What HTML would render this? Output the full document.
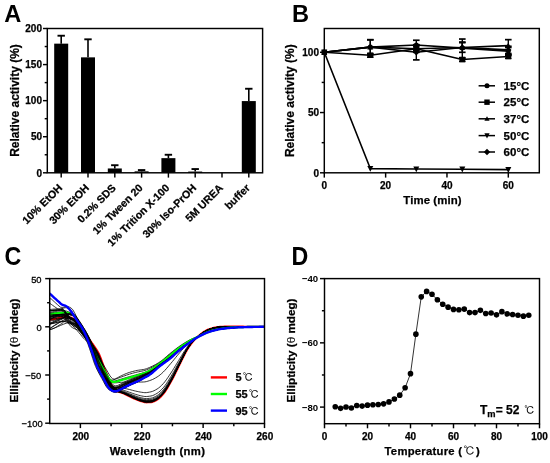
<!DOCTYPE html>
<html><head><meta charset="utf-8"><title>Figure</title>
<style>
html,body{margin:0;padding:0;background:#fff;}
svg{display:block;font-family:"Liberation Sans", sans-serif;}
text{fill:#000;stroke:#000;stroke-width:0.25px;}
</style></head><body>
<svg width="550" height="463" viewBox="0 0 550 463">
<rect width="550" height="463" fill="#fff"/>
<text x="4.2" y="21.6" font-size="23.6" font-weight="bold" text-anchor="start" style="stroke:none">A</text>
<rect x="47.3" y="28.5" width="215.3" height="144.3" fill="none" stroke="#000" stroke-width="1.45"/>
<line x1="43" y1="172.8" x2="47.3" y2="172.8" stroke="#000" stroke-width="1.45" />
<text x="42" y="176.5" font-size="10" font-weight="bold" text-anchor="end" >0</text>
<line x1="43" y1="136.73" x2="47.3" y2="136.73" stroke="#000" stroke-width="1.45" />
<text x="42" y="140.43" font-size="10" font-weight="bold" text-anchor="end" >50</text>
<line x1="43" y1="100.65" x2="47.3" y2="100.65" stroke="#000" stroke-width="1.45" />
<text x="42" y="104.35" font-size="10" font-weight="bold" text-anchor="end" >100</text>
<line x1="43" y1="64.58" x2="47.3" y2="64.58" stroke="#000" stroke-width="1.45" />
<text x="42" y="68.28" font-size="10" font-weight="bold" text-anchor="end" >150</text>
<line x1="43" y1="28.5" x2="47.3" y2="28.5" stroke="#000" stroke-width="1.45" />
<text x="42" y="32.2" font-size="10" font-weight="bold" text-anchor="end" >200</text>
<line x1="44.7" y1="154.76" x2="47.3" y2="154.76" stroke="#000" stroke-width="1.45" />
<line x1="44.7" y1="118.69" x2="47.3" y2="118.69" stroke="#000" stroke-width="1.45" />
<line x1="44.7" y1="82.61" x2="47.3" y2="82.61" stroke="#000" stroke-width="1.45" />
<line x1="44.7" y1="46.54" x2="47.3" y2="46.54" stroke="#000" stroke-width="1.45" />
<text x="19" y="100.5" font-size="12" font-weight="bold" text-anchor="middle" transform="rotate(-90 19 100.5)" >Relative activity (%)</text>
<rect x="54.2" y="43.65" width="14" height="129.15" fill="#000"/>
<line x1="61.2" y1="43.65" x2="61.2" y2="35.72" stroke="#000" stroke-width="1.6" />
<line x1="57.5" y1="35.72" x2="64.9" y2="35.72" stroke="#000" stroke-width="1.9" />
<line x1="61.2" y1="172.8" x2="61.2" y2="177.6" stroke="#000" stroke-width="1.45" />
<text x="63" y="188.6" font-size="10.7" font-weight="bold" text-anchor="end" transform="rotate(-45 63 188.6)" >10% EtOH</text>
<rect x="81" y="57.36" width="14" height="115.44" fill="#000"/>
<line x1="88" y1="57.36" x2="88" y2="39.32" stroke="#000" stroke-width="1.6" />
<line x1="84.3" y1="39.32" x2="91.7" y2="39.32" stroke="#000" stroke-width="1.9" />
<line x1="88" y1="172.8" x2="88" y2="177.6" stroke="#000" stroke-width="1.45" />
<text x="89.8" y="188.6" font-size="10.7" font-weight="bold" text-anchor="end" transform="rotate(-45 89.8 188.6)" >30% EtOH</text>
<rect x="107.8" y="168.47" width="14" height="4.33" fill="#000"/>
<line x1="114.8" y1="168.47" x2="114.8" y2="165.22" stroke="#000" stroke-width="1.6" />
<line x1="111.1" y1="165.22" x2="118.5" y2="165.22" stroke="#000" stroke-width="1.9" />
<line x1="114.8" y1="172.8" x2="114.8" y2="177.6" stroke="#000" stroke-width="1.45" />
<text x="116.6" y="188.6" font-size="10.7" font-weight="bold" text-anchor="end" transform="rotate(-45 116.6 188.6)" >0.2% SDS</text>
<rect x="134.6" y="171.36" width="14" height="1.44" fill="#000"/>
<line x1="141.6" y1="171.36" x2="141.6" y2="170.06" stroke="#000" stroke-width="1.6" />
<line x1="137.9" y1="170.06" x2="145.3" y2="170.06" stroke="#000" stroke-width="1.9" />
<line x1="141.6" y1="172.8" x2="141.6" y2="177.6" stroke="#000" stroke-width="1.45" />
<text x="143.4" y="188.6" font-size="10.7" font-weight="bold" text-anchor="end" transform="rotate(-45 143.4 188.6)" >1% Tween 20</text>
<rect x="161.4" y="158.15" width="14" height="14.65" fill="#000"/>
<line x1="168.4" y1="158.15" x2="168.4" y2="154.76" stroke="#000" stroke-width="1.6" />
<line x1="164.7" y1="154.76" x2="172.1" y2="154.76" stroke="#000" stroke-width="1.9" />
<line x1="168.4" y1="172.8" x2="168.4" y2="177.6" stroke="#000" stroke-width="1.45" />
<text x="170.2" y="188.6" font-size="10.7" font-weight="bold" text-anchor="end" transform="rotate(-45 170.2 188.6)" >1% Trition X-100</text>
<rect x="188.2" y="171.57" width="14" height="1.23" fill="#000"/>
<line x1="195.2" y1="171.57" x2="195.2" y2="169.05" stroke="#000" stroke-width="1.6" />
<line x1="191.5" y1="169.05" x2="198.9" y2="169.05" stroke="#000" stroke-width="1.9" />
<line x1="195.2" y1="172.8" x2="195.2" y2="177.6" stroke="#000" stroke-width="1.45" />
<text x="197" y="188.6" font-size="10.7" font-weight="bold" text-anchor="end" transform="rotate(-45 197 188.6)" >30% Iso-PrOH</text>
<line x1="222" y1="172.8" x2="222" y2="177.6" stroke="#000" stroke-width="1.45" />
<text x="223.8" y="188.6" font-size="10.7" font-weight="bold" text-anchor="end" transform="rotate(-45 223.8 188.6)" >5M UREA</text>
<rect x="241.8" y="101.08" width="14" height="71.72" fill="#000"/>
<line x1="248.8" y1="101.08" x2="248.8" y2="88.75" stroke="#000" stroke-width="1.6" />
<line x1="245.1" y1="88.75" x2="252.5" y2="88.75" stroke="#000" stroke-width="1.9" />
<line x1="248.8" y1="172.8" x2="248.8" y2="177.6" stroke="#000" stroke-width="1.45" />
<text x="250.6" y="188.6" font-size="10.7" font-weight="bold" text-anchor="end" transform="rotate(-45 250.6 188.6)" >buffer</text>
<text x="292.1" y="21.6" font-size="23.6" font-weight="bold" text-anchor="start" style="stroke:none">B</text>
<rect x="324.3" y="28.5" width="215" height="144.3" fill="none" stroke="#000" stroke-width="1.45"/>
<line x1="320" y1="172.8" x2="324.3" y2="172.8" stroke="#000" stroke-width="1.45" />
<text x="319" y="176.5" font-size="10" font-weight="bold" text-anchor="end" >0</text>
<line x1="320" y1="112.55" x2="324.3" y2="112.55" stroke="#000" stroke-width="1.45" />
<text x="319" y="116.25" font-size="10" font-weight="bold" text-anchor="end" >50</text>
<line x1="320" y1="52.3" x2="324.3" y2="52.3" stroke="#000" stroke-width="1.45" />
<text x="319" y="56" font-size="10" font-weight="bold" text-anchor="end" >100</text>
<line x1="321.7" y1="142.68" x2="324.3" y2="142.68" stroke="#000" stroke-width="1.45" />
<line x1="321.7" y1="82.42" x2="324.3" y2="82.42" stroke="#000" stroke-width="1.45" />
<line x1="324.3" y1="172.8" x2="324.3" y2="177.6" stroke="#000" stroke-width="1.45" />
<text x="324.3" y="188.8" font-size="10" font-weight="bold" text-anchor="middle" >0</text>
<line x1="385.63" y1="172.8" x2="385.63" y2="177.6" stroke="#000" stroke-width="1.45" />
<text x="385.63" y="188.8" font-size="10" font-weight="bold" text-anchor="middle" >20</text>
<line x1="446.97" y1="172.8" x2="446.97" y2="177.6" stroke="#000" stroke-width="1.45" />
<text x="446.97" y="188.8" font-size="10" font-weight="bold" text-anchor="middle" >40</text>
<line x1="508.3" y1="172.8" x2="508.3" y2="177.6" stroke="#000" stroke-width="1.45" />
<text x="508.3" y="188.8" font-size="10" font-weight="bold" text-anchor="middle" >60</text>
<text x="294.5" y="100.7" font-size="12" font-weight="bold" text-anchor="middle" transform="rotate(-90 294.5 100.7)" >Relative activity (%)</text>
<text x="432.5" y="204.3" font-size="11.4" font-weight="bold" text-anchor="middle" letter-spacing="0.1">Time (min)</text>
<polyline points="324.3,52.3 370.3,47.12 416.3,45.07 462.3,48.08 508.3,51.09" fill="none" stroke="#000" stroke-width="1.6" stroke-linejoin="round"/>
<circle cx="324.3" cy="52.3" r="2.5" fill="#000"/>
<line x1="370.3" y1="54.35" x2="370.3" y2="39.89" stroke="#000" stroke-width="1.4" />
<line x1="367" y1="39.89" x2="373.6" y2="39.89" stroke="#000" stroke-width="1.7" />
<line x1="367" y1="54.35" x2="373.6" y2="54.35" stroke="#000" stroke-width="1.7" />
<circle cx="370.3" cy="47.12" r="2.5" fill="#000"/>
<line x1="416.3" y1="49.89" x2="416.3" y2="40.25" stroke="#000" stroke-width="1.4" />
<line x1="413" y1="40.25" x2="419.6" y2="40.25" stroke="#000" stroke-width="1.7" />
<line x1="413" y1="49.89" x2="419.6" y2="49.89" stroke="#000" stroke-width="1.7" />
<circle cx="416.3" cy="45.07" r="2.5" fill="#000"/>
<line x1="462.3" y1="48.08" x2="462.3" y2="42.06" stroke="#000" stroke-width="1.4" />
<line x1="459" y1="42.06" x2="465.6" y2="42.06" stroke="#000" stroke-width="1.7" />
<circle cx="462.3" cy="48.08" r="2.5" fill="#000"/>
<line x1="508.3" y1="54.71" x2="508.3" y2="47.48" stroke="#000" stroke-width="1.4" />
<line x1="505" y1="47.48" x2="511.6" y2="47.48" stroke="#000" stroke-width="1.7" />
<line x1="505" y1="54.71" x2="511.6" y2="54.71" stroke="#000" stroke-width="1.7" />
<circle cx="508.3" cy="51.09" r="2.5" fill="#000"/>
<polyline points="324.3,52.3 370.3,55.31 416.3,48.68 462.3,59.53 508.3,56.52" fill="none" stroke="#000" stroke-width="1.6" stroke-linejoin="round"/>
<rect x="321.6" y="49.6" width="5.4" height="5.4" fill="#000"/>
<line x1="370.3" y1="57.12" x2="370.3" y2="53.5" stroke="#000" stroke-width="1.4" />
<line x1="367" y1="53.5" x2="373.6" y2="53.5" stroke="#000" stroke-width="1.7" />
<line x1="367" y1="57.12" x2="373.6" y2="57.12" stroke="#000" stroke-width="1.7" />
<rect x="367.6" y="52.61" width="5.4" height="5.4" fill="#000"/>
<line x1="416.3" y1="50.49" x2="416.3" y2="46.88" stroke="#000" stroke-width="1.4" />
<line x1="413" y1="46.88" x2="419.6" y2="46.88" stroke="#000" stroke-width="1.7" />
<line x1="413" y1="50.49" x2="419.6" y2="50.49" stroke="#000" stroke-width="1.7" />
<rect x="413.6" y="45.98" width="5.4" height="5.4" fill="#000"/>
<line x1="462.3" y1="61.34" x2="462.3" y2="57.72" stroke="#000" stroke-width="1.4" />
<line x1="459" y1="57.72" x2="465.6" y2="57.72" stroke="#000" stroke-width="1.7" />
<line x1="459" y1="61.34" x2="465.6" y2="61.34" stroke="#000" stroke-width="1.7" />
<rect x="459.6" y="56.83" width="5.4" height="5.4" fill="#000"/>
<line x1="508.3" y1="58.32" x2="508.3" y2="54.71" stroke="#000" stroke-width="1.4" />
<line x1="505" y1="54.71" x2="511.6" y2="54.71" stroke="#000" stroke-width="1.7" />
<line x1="505" y1="58.32" x2="511.6" y2="58.32" stroke="#000" stroke-width="1.7" />
<rect x="505.6" y="53.82" width="5.4" height="5.4" fill="#000"/>
<polyline points="324.3,52.3 370.3,47.12 416.3,48.68 462.3,47.48 508.3,45.67" fill="none" stroke="#000" stroke-width="1.6" stroke-linejoin="round"/>
<polygon points="324.3,49.42 327.29,54.6 321.31,54.6" fill="#000"/>
<polygon points="370.3,44.24 373.29,49.42 367.31,49.42" fill="#000"/>
<line x1="416.3" y1="52.3" x2="416.3" y2="45.07" stroke="#000" stroke-width="1.4" />
<line x1="413" y1="45.07" x2="419.6" y2="45.07" stroke="#000" stroke-width="1.7" />
<line x1="413" y1="52.3" x2="419.6" y2="52.3" stroke="#000" stroke-width="1.7" />
<polygon points="416.3,45.81 419.29,50.98 413.31,50.98" fill="#000"/>
<line x1="462.3" y1="58.32" x2="462.3" y2="39.04" stroke="#000" stroke-width="1.4" />
<line x1="459" y1="39.04" x2="465.6" y2="39.04" stroke="#000" stroke-width="1.7" />
<line x1="459" y1="58.32" x2="465.6" y2="58.32" stroke="#000" stroke-width="1.7" />
<polygon points="462.3,44.6 465.29,49.78 459.31,49.78" fill="#000"/>
<line x1="508.3" y1="55.91" x2="508.3" y2="39.65" stroke="#000" stroke-width="1.4" />
<line x1="505" y1="39.65" x2="511.6" y2="39.65" stroke="#000" stroke-width="1.7" />
<line x1="505" y1="55.91" x2="511.6" y2="55.91" stroke="#000" stroke-width="1.7" />
<polygon points="508.3,42.8 511.29,47.97 505.31,47.97" fill="#000"/>
<polyline points="324.3,52.3 370.3,168.58 416.3,169.06 462.3,169.19 508.3,169.67" fill="none" stroke="#000" stroke-width="1.6" stroke-linejoin="round"/>
<polygon points="324.3,55.52 327.29,49.72 321.31,49.72" fill="#000"/>
<polygon points="370.3,171.8 373.29,166.01 367.31,166.01" fill="#000"/>
<polygon points="416.3,172.28 419.29,166.49 413.31,166.49" fill="#000"/>
<polygon points="462.3,172.41 465.29,166.61 459.31,166.61" fill="#000"/>
<polygon points="508.3,172.89 511.29,167.09 505.31,167.09" fill="#000"/>
<polyline points="324.3,52.3 370.3,47.12 416.3,52.3 462.3,47.48 508.3,49.89" fill="none" stroke="#000" stroke-width="1.6" stroke-linejoin="round"/>
<polygon points="324.3,49.1 327.5,52.3 324.3,55.5 321.1,52.3" fill="#000"/>
<line x1="370.3" y1="54.59" x2="370.3" y2="39.65" stroke="#000" stroke-width="1.4" />
<line x1="367" y1="39.65" x2="373.6" y2="39.65" stroke="#000" stroke-width="1.7" />
<line x1="367" y1="54.59" x2="373.6" y2="54.59" stroke="#000" stroke-width="1.7" />
<polygon points="370.3,43.92 373.5,47.12 370.3,50.32 367.1,47.12" fill="#000"/>
<line x1="416.3" y1="59.89" x2="416.3" y2="44.71" stroke="#000" stroke-width="1.4" />
<line x1="413" y1="44.71" x2="419.6" y2="44.71" stroke="#000" stroke-width="1.7" />
<line x1="413" y1="59.89" x2="419.6" y2="59.89" stroke="#000" stroke-width="1.7" />
<polygon points="416.3,49.1 419.5,52.3 416.3,55.5 413.1,52.3" fill="#000"/>
<line x1="462.3" y1="52.3" x2="462.3" y2="42.66" stroke="#000" stroke-width="1.4" />
<line x1="459" y1="42.66" x2="465.6" y2="42.66" stroke="#000" stroke-width="1.7" />
<line x1="459" y1="52.3" x2="465.6" y2="52.3" stroke="#000" stroke-width="1.7" />
<polygon points="462.3,44.28 465.5,47.48 462.3,50.68 459.1,47.48" fill="#000"/>
<line x1="508.3" y1="53.5" x2="508.3" y2="46.27" stroke="#000" stroke-width="1.4" />
<line x1="505" y1="46.27" x2="511.6" y2="46.27" stroke="#000" stroke-width="1.7" />
<line x1="505" y1="53.5" x2="511.6" y2="53.5" stroke="#000" stroke-width="1.7" />
<polygon points="508.3,46.69 511.5,49.89 508.3,53.09 505.1,49.89" fill="#000"/>
<line x1="478.6" y1="85.8" x2="495" y2="85.8" stroke="#000" stroke-width="1.5" />
<circle cx="487" cy="85.8" r="2.5" fill="#000"/>
<text x="503.6" y="89.8" font-size="11.5" font-weight="bold" text-anchor="start" >15°C</text>
<line x1="478.6" y1="102.2" x2="495" y2="102.2" stroke="#000" stroke-width="1.5" />
<rect x="484.3" y="99.5" width="5.4" height="5.4" fill="#000"/>
<text x="503.6" y="106.2" font-size="11.5" font-weight="bold" text-anchor="start" >25°C</text>
<line x1="478.6" y1="118.8" x2="495" y2="118.8" stroke="#000" stroke-width="1.5" />
<polygon points="487,116.3 489.6,120.8 484.4,120.8" fill="#000"/>
<text x="503.6" y="122.8" font-size="11.5" font-weight="bold" text-anchor="start" >37°C</text>
<line x1="478.6" y1="135.6" x2="495" y2="135.6" stroke="#000" stroke-width="1.5" />
<polygon points="487,138.4 489.6,133.36 484.4,133.36" fill="#000"/>
<text x="503.6" y="139.6" font-size="11.5" font-weight="bold" text-anchor="start" >50°C</text>
<line x1="478.6" y1="152" x2="495" y2="152" stroke="#000" stroke-width="1.5" />
<polygon points="487,148.8 490.2,152 487,155.2 483.8,152" fill="#000"/>
<text x="503.6" y="156" font-size="11.5" font-weight="bold" text-anchor="start" >60°C</text>
<text transform="translate(4.4,265.1) scale(0.905,1)" font-size="25.7" font-weight="bold" style="stroke:none">C</text>
<clipPath id="cc"><rect x="49.7" y="278.6" width="214.8" height="144.9"/></clipPath>
<g clip-path="url(#cc)">
<polyline points="49.7,319.57 51.23,319.36 52.77,319.12 54.3,318.87 55.84,318.61 57.37,318.3 58.91,317.95 60.44,317.62 61.97,317.35 63.51,317.13 65.04,316.95 66.58,316.87 68.11,317.01 69.65,317.36 71.18,317.83 72.71,318.69 74.25,319.98 75.78,321.47 77.32,323.32 78.85,325.25 80.39,327.18 81.92,329.21 83.45,331.41 84.99,333.72 86.52,335.96 88.06,338.03 89.59,340.02 91.13,342.03 92.66,344.15 94.19,346.34 95.73,348.56 97.26,351 98.8,353.79 100.33,357.32 101.87,361.52 103.4,365.91 104.93,370 106.47,373.94 108,377.72 109.54,381.18 111.07,384.52 112.61,387.05 114.14,388.68 115.67,389.94 117.21,390.91 118.74,391.63 120.28,392.2 121.81,392.73 123.35,393.32 124.88,394 126.41,394.73 127.95,395.47 129.48,396.21 131.02,396.95 132.55,397.7 134.09,398.43 135.62,399.1 137.15,399.72 138.69,400.32 140.22,400.86 141.76,401.32 143.29,401.75 144.83,402.12 146.36,402.28 147.89,402.26 149.43,402.19 150.96,402.09 152.5,401.8 154.03,401.22 155.57,400.44 157.1,399.58 158.63,398.52 160.17,397.16 161.7,395.55 163.24,393.8 164.77,391.81 166.31,389.5 167.84,386.96 169.37,384.26 170.91,381.49 172.44,378.69 173.98,375.71 175.51,372.58 177.05,369.42 178.58,366.32 180.11,363.24 181.65,360.08 183.18,356.94 184.72,353.9 186.25,351.06 187.79,348.49 189.32,346.17 190.85,344.02 192.39,342.06 193.92,340.3 195.46,338.73 196.99,337.31 198.53,336 200.06,334.75 201.59,333.53 203.13,332.4 204.66,331.43 206.2,330.6 207.73,329.86 209.27,329.23 210.8,328.72 212.33,328.27 213.87,327.88 215.4,327.57 216.94,327.32 218.47,327.11 220.01,326.97 221.54,326.86 223.07,326.76 224.61,326.68 226.14,326.63 227.68,326.61 229.21,326.61 230.75,326.62 232.28,326.63 233.81,326.65 235.35,326.66 236.88,326.68 238.42,326.69 239.95,326.7 241.49,326.71 243.02,326.72 244.55,326.73 246.09,326.74 247.62,326.74 249.16,326.75 250.69,326.76 252.23,326.76 253.76,326.77 255.29,326.78 256.83,326.78 258.36,326.79 259.9,326.79 261.43,326.79 262.97,326.8 264.5,326.8" fill="none" stroke="#f00" stroke-width="2.2" stroke-linejoin="round" stroke-linecap="round" />
<polyline points="49.7,329.77 51.23,329.34 52.77,328.78 54.3,328.09 55.84,327.27 57.37,326.32 58.91,325.34 60.44,324.38 61.97,323.43 63.51,322.2 65.04,320.64 66.58,319.14 68.11,317.98 69.65,317.34 71.18,317.75 72.71,319.05 74.25,320.56 75.78,322.46 77.32,324.44 78.85,326.43 80.39,328.51 81.92,330.78 83.45,333.18 84.99,335.53 86.52,337.71 88.06,339.81 89.59,341.9 91.13,344.08 92.66,346.29 94.19,348.51 95.73,350.94 97.26,353.73 98.8,357.24 100.33,361.43 101.87,365.81 103.4,369.91 104.93,373.85 106.47,377.64 108,381.11 109.54,384.45 111.07,386.99 112.61,388.6 114.14,389.78 115.67,390.68 117.21,391.36 118.74,391.91 120.28,392.38 121.81,392.85 123.35,393.39 124.88,394.02 126.41,394.73 127.95,395.47 129.48,396.21 131.02,396.95 132.55,397.7 134.09,398.43 135.62,399.1 137.15,399.72 138.69,400.32 140.22,400.86 141.76,401.32 143.29,401.75 144.83,402.12 146.36,402.28 147.89,402.26 149.43,402.19 150.96,402.09 152.5,401.8 154.03,401.22 155.57,400.44 157.1,399.58 158.63,398.52 160.17,397.16 161.7,395.55 163.24,393.8 164.77,391.81 166.31,389.5 167.84,386.96 169.37,384.26 170.91,381.49 172.44,378.69 173.98,375.71 175.51,372.58 177.05,369.42 178.58,366.32 180.11,363.24 181.65,360.08 183.18,356.94 184.72,353.9 186.25,351.06 187.79,348.49 189.32,346.17 190.85,344.02 192.39,342.06 193.92,340.3 195.46,338.73 196.99,337.31 198.53,336 200.06,334.75 201.59,333.53 203.13,332.4 204.66,331.43 206.2,330.6 207.73,329.86 209.27,329.23 210.8,328.72 212.33,328.27 213.87,327.88 215.4,327.57 216.94,327.32 218.47,327.11 220.01,326.97 221.54,326.86 223.07,326.76 224.61,326.68 226.14,326.63 227.68,326.61 229.21,326.61 230.75,326.62 232.28,326.63 233.81,326.65 235.35,326.66 236.88,326.68 238.42,326.69 239.95,326.7 241.49,326.71 243.02,326.72 244.55,326.73 246.09,326.74 247.62,326.74 249.16,326.75 250.69,326.76 252.23,326.76 253.76,326.77 255.29,326.78 256.83,326.78 258.36,326.79 259.9,326.79 261.43,326.79 262.97,326.8 264.5,326.8" fill="none" stroke="#000" stroke-width="0.8" stroke-linejoin="round" stroke-linecap="round" />
<polyline points="49.7,328.33 51.23,327.48 52.77,326.61 54.3,325.72 55.84,324.8 57.37,323.84 58.91,322.86 60.44,321.91 61.97,321.03 63.51,320.08 65.04,319.09 66.58,318.26 68.11,317.75 69.65,317.62 71.18,318.09 72.71,319.4 74.25,321.37 75.78,323.81 77.32,326.46 78.85,328.97 80.39,331.19 81.92,333.19 83.45,335.11 84.99,336.91 86.52,338.52 88.06,340.01 89.59,341.54 91.13,343.28 92.66,345.31 94.19,347.53 95.73,349.87 97.26,352.49 98.8,355.66 100.33,359.52 101.87,363.8 103.4,368.01 104.93,372.01 106.47,375.86 108,379.47 109.54,382.85 111.07,385.75 112.61,387.77 114.14,389.15 115.67,390.2 117.21,391 118.74,391.62 120.28,392.12 121.81,392.61 123.35,393.16 124.88,393.81 126.41,394.51 127.95,395.24 129.48,395.96 131.02,396.69 132.55,397.43 134.09,398.15 135.62,398.8 137.15,399.42 138.69,400 140.22,400.54 141.76,400.98 143.29,401.4 144.83,401.77 146.36,401.92 147.89,401.89 149.43,401.82 150.96,401.71 152.5,401.41 154.03,400.83 155.57,400.05 157.1,399.19 158.63,398.13 160.17,396.77 161.7,395.17 163.24,393.42 164.77,391.44 166.31,389.14 167.84,386.61 169.37,383.93 170.91,381.17 172.44,378.39 173.98,375.43 175.51,372.32 177.05,369.18 178.58,366.11 180.11,363.05 181.65,359.91 183.18,356.79 184.72,353.78 186.25,350.95 187.79,348.41 189.32,346.11 190.85,343.97 192.39,342.02 193.92,340.27 195.46,338.71 196.99,337.3 198.53,336 200.06,334.76 201.59,333.55 203.13,332.42 204.66,331.45 206.2,330.62 207.73,329.89 209.27,329.26 210.8,328.74 212.33,328.29 213.87,327.91 215.4,327.6 216.94,327.34 218.47,327.13 220.01,326.99 221.54,326.88 223.07,326.78 224.61,326.7 226.14,326.64 227.68,326.62 229.21,326.62 230.75,326.63 232.28,326.64 233.81,326.66 235.35,326.67 236.88,326.69 238.42,326.7 239.95,326.71 241.49,326.72 243.02,326.72 244.55,326.73 246.09,326.74 247.62,326.75 249.16,326.75 250.69,326.76 252.23,326.77 253.76,326.77 255.29,326.78 256.83,326.78 258.36,326.79 259.9,326.79 261.43,326.79 262.97,326.8 264.5,326.8" fill="none" stroke="#000" stroke-width="0.8" stroke-linejoin="round" stroke-linecap="round" />
<polyline points="49.7,329.69 51.23,329.21 52.77,328.68 54.3,328.11 55.84,327.49 57.37,326.81 58.91,326.11 60.44,325.46 61.97,324.84 63.51,324.21 65.04,323.61 66.58,323.17 68.11,322.94 69.65,322.9 71.18,323.23 72.71,324.05 74.25,325.18 75.78,326.65 77.32,328.28 78.85,329.93 80.39,331.61 81.92,333.38 83.45,335.2 84.99,336.96 86.52,338.59 88.06,340.15 89.59,341.78 91.13,343.61 92.66,345.69 94.19,347.91 95.73,350.28 97.26,352.96 98.8,356.27 100.33,360.27 101.87,364.59 103.4,368.77 104.93,372.75 106.47,376.58 108,380.13 109.54,383.5 111.07,386.27 112.61,388.13 114.14,389.44 115.67,390.44 117.21,391.2 118.74,391.79 120.28,392.29 121.81,392.77 123.35,393.32 124.88,393.96 126.41,394.67 127.95,395.41 129.48,396.15 131.02,396.88 132.55,397.63 134.09,398.36 135.62,399.03 137.15,399.65 138.69,400.24 140.22,400.78 141.76,401.23 143.29,401.66 144.83,402.03 146.36,402.19 147.89,402.16 149.43,402.1 150.96,401.99 152.5,401.7 154.03,401.12 155.57,400.35 157.1,399.48 158.63,398.43 160.17,397.06 161.7,395.46 163.24,393.7 164.77,391.72 166.31,389.41 167.84,386.87 169.37,384.18 170.91,381.41 172.44,378.62 173.98,375.64 175.51,372.52 177.05,369.36 178.58,366.27 180.11,363.19 181.65,360.04 183.18,356.9 184.72,353.87 186.25,351.03 187.79,348.47 189.32,346.16 190.85,344.01 192.39,342.05 193.92,340.29 195.46,338.72 196.99,337.31 198.53,336 200.06,334.75 201.59,333.53 203.13,332.4 204.66,331.43 206.2,330.6 207.73,329.87 209.27,329.24 210.8,328.72 212.33,328.27 213.87,327.89 215.4,327.58 216.94,327.32 218.47,327.12 220.01,326.98 221.54,326.86 223.07,326.76 224.61,326.68 226.14,326.63 227.68,326.61 229.21,326.61 230.75,326.62 232.28,326.63 233.81,326.65 235.35,326.67 236.88,326.68 238.42,326.69 239.95,326.7 241.49,326.71 243.02,326.72 244.55,326.73 246.09,326.74 247.62,326.74 249.16,326.75 250.69,326.76 252.23,326.76 253.76,326.77 255.29,326.78 256.83,326.78 258.36,326.79 259.9,326.79 261.43,326.79 262.97,326.8 264.5,326.8" fill="none" stroke="#000" stroke-width="0.8" stroke-linejoin="round" stroke-linecap="round" />
<polyline points="49.7,317.32 51.23,317.13 52.77,316.97 54.3,316.84 55.84,316.72 57.37,316.6 58.91,316.5 60.44,316.48 61.97,316.53 63.51,316.94 65.04,317.87 66.58,319.15 68.11,320.59 69.65,321.91 71.18,322.92 72.71,323.9 74.25,325.1 75.78,326.5 77.32,328.08 78.85,329.68 80.39,331.34 81.92,333.09 83.45,334.87 84.99,336.62 86.52,338.25 88.06,339.79 89.59,341.39 91.13,343.18 92.66,345.24 94.19,347.47 95.73,349.81 97.26,352.42 98.8,355.54 100.33,359.35 101.87,363.59 103.4,367.8 104.93,371.79 106.47,375.63 108,379.24 109.54,382.6 111.07,385.52 112.61,387.57 114.14,388.95 115.67,390 117.21,390.8 118.74,391.4 120.28,391.9 121.81,392.38 123.35,392.91 124.88,393.55 126.41,394.23 127.95,394.95 129.48,395.65 131.02,396.36 132.55,397.09 134.09,397.79 135.62,398.43 137.15,399.03 138.69,399.61 140.22,400.13 141.76,400.57 143.29,400.98 144.83,401.33 146.36,401.48 147.89,401.43 149.43,401.35 150.96,401.23 152.5,400.93 154.03,400.34 155.57,399.57 157.1,398.7 158.63,397.65 160.17,396.28 161.7,394.69 163.24,392.95 164.77,390.98 166.31,388.69 167.84,386.18 169.37,383.51 170.91,380.78 172.44,378.02 173.98,375.08 175.51,372 177.05,368.89 178.58,365.84 180.11,362.81 181.65,359.7 183.18,356.61 184.72,353.63 186.25,350.83 187.79,348.31 189.32,346.02 190.85,343.91 192.39,341.98 193.92,340.24 195.46,338.7 196.99,337.3 198.53,336 200.06,334.77 201.59,333.56 203.13,332.44 204.66,331.48 206.2,330.65 207.73,329.92 209.27,329.29 210.8,328.77 212.33,328.32 213.87,327.94 215.4,327.63 216.94,327.37 218.47,327.16 220.01,327.02 221.54,326.9 223.07,326.8 224.61,326.72 226.14,326.66 227.68,326.64 229.21,326.64 230.75,326.64 232.28,326.65 233.81,326.67 235.35,326.68 236.88,326.69 238.42,326.7 239.95,326.71 241.49,326.72 243.02,326.73 244.55,326.73 246.09,326.74 247.62,326.75 249.16,326.75 250.69,326.76 252.23,326.77 253.76,326.77 255.29,326.78 256.83,326.78 258.36,326.79 259.9,326.79 261.43,326.79 262.97,326.8 264.5,326.8" fill="none" stroke="#000" stroke-width="0.8" stroke-linejoin="round" stroke-linecap="round" />
<polyline points="49.7,318.69 51.23,318.37 52.77,318.05 54.3,317.72 55.84,317.36 57.37,317.01 58.91,316.72 60.44,316.49 61.97,316.29 63.51,316.77 65.04,318.3 66.58,320.48 68.11,322.81 69.65,325.01 71.18,326.76 72.71,327.82 74.25,328.59 75.78,329.18 77.32,329.74 78.85,330.61 80.39,332.14 81.92,334.15 83.45,336.16 84.99,338.07 86.52,339.9 88.06,341.77 89.59,343.76 91.13,345.87 92.66,348.08 94.19,350.47 95.73,353.18 97.26,356.5 98.8,360.5 100.33,364.8 101.87,368.94 103.4,372.9 104.93,376.7 106.47,380.22 108,383.56 109.54,386.26 111.07,388.09 112.61,389.35 114.14,390.25 115.67,390.92 117.21,391.43 118.74,391.83 120.28,392.22 121.81,392.62 123.35,393.1 124.88,393.68 126.41,394.34 127.95,395.06 129.48,395.78 131.02,396.49 132.55,397.22 134.09,397.93 135.62,398.58 137.15,399.19 138.69,399.77 140.22,400.29 141.76,400.73 143.29,401.15 144.83,401.51 146.36,401.65 147.89,401.62 149.43,401.54 150.96,401.42 152.5,401.12 154.03,400.54 155.57,399.76 157.1,398.9 158.63,397.84 160.17,396.48 161.7,394.88 163.24,393.14 164.77,391.16 166.31,388.87 167.84,386.35 169.37,383.68 170.91,380.94 172.44,378.17 173.98,375.22 175.51,372.13 177.05,369.01 178.58,365.95 180.11,362.9 181.65,359.79 183.18,356.69 184.72,353.69 186.25,350.88 187.79,348.35 189.32,346.06 190.85,343.93 192.39,341.99 193.92,340.25 195.46,338.7 196.99,337.3 198.53,336 200.06,334.76 201.59,333.56 203.13,332.43 204.66,331.47 206.2,330.64 207.73,329.9 209.27,329.28 210.8,328.76 212.33,328.31 213.87,327.92 215.4,327.61 216.94,327.36 218.47,327.15 220.01,327.01 221.54,326.89 223.07,326.79 224.61,326.71 226.14,326.65 227.68,326.63 229.21,326.63 230.75,326.64 232.28,326.65 233.81,326.66 235.35,326.68 236.88,326.69 238.42,326.7 239.95,326.71 241.49,326.72 243.02,326.73 244.55,326.73 246.09,326.74 247.62,326.75 249.16,326.75 250.69,326.76 252.23,326.77 253.76,326.77 255.29,326.78 256.83,326.78 258.36,326.79 259.9,326.79 261.43,326.79 262.97,326.8 264.5,326.8" fill="none" stroke="#000" stroke-width="0.8" stroke-linejoin="round" stroke-linecap="round" />
<polyline points="49.7,316.7 51.23,316.47 52.77,316.23 54.3,315.97 55.84,315.67 57.37,315.35 58.91,315.06 60.44,314.84 61.97,314.66 63.51,314.85 65.04,315.66 66.58,316.91 68.11,318.35 69.65,319.71 71.18,320.95 72.71,322.19 74.25,323.57 75.78,325.19 77.32,326.85 78.85,328.54 80.39,330.41 81.92,332.49 83.45,334.64 84.99,336.71 86.52,338.65 88.06,340.54 89.59,342.48 91.13,344.57 92.66,346.76 94.19,349.04 95.73,351.53 97.26,354.43 98.8,358.02 100.33,362.2 101.87,366.5 103.4,370.53 104.93,374.42 106.47,378.13 108,381.54 109.54,384.71 111.07,387.06 112.61,388.55 114.14,389.65 115.67,390.46 117.21,391.06 118.74,391.55 120.28,391.98 121.81,392.41 123.35,392.91 124.88,393.51 126.41,394.18 127.95,394.89 129.48,395.59 131.02,396.3 132.55,397.02 134.09,397.72 135.62,398.36 137.15,398.96 138.69,399.53 140.22,400.05 141.76,400.48 143.29,400.89 144.83,401.24 146.36,401.39 147.89,401.34 149.43,401.26 150.96,401.14 152.5,400.83 154.03,400.24 155.57,399.47 157.1,398.6 158.63,397.55 160.17,396.19 161.7,394.6 163.24,392.86 164.77,390.88 166.31,388.6 167.84,386.09 169.37,383.43 170.91,380.7 172.44,377.95 173.98,375.01 175.51,371.94 177.05,368.83 178.58,365.79 180.11,362.76 181.65,359.66 183.18,356.58 184.72,353.6 186.25,350.8 187.79,348.28 189.32,346.01 190.85,343.9 192.39,341.97 193.92,340.23 195.46,338.69 196.99,337.3 198.53,336 200.06,334.77 201.59,333.57 203.13,332.45 204.66,331.48 206.2,330.66 207.73,329.92 209.27,329.3 210.8,328.78 212.33,328.33 213.87,327.94 215.4,327.63 216.94,327.38 218.47,327.17 220.01,327.02 221.54,326.91 223.07,326.8 224.61,326.72 226.14,326.66 227.68,326.64 229.21,326.64 230.75,326.65 232.28,326.66 233.81,326.67 235.35,326.68 236.88,326.69 238.42,326.71 239.95,326.71 241.49,326.72 243.02,326.73 244.55,326.73 246.09,326.74 247.62,326.75 249.16,326.75 250.69,326.76 252.23,326.77 253.76,326.77 255.29,326.78 256.83,326.78 258.36,326.79 259.9,326.79 261.43,326.79 262.97,326.8 264.5,326.8" fill="none" stroke="#000" stroke-width="0.8" stroke-linejoin="round" stroke-linecap="round" />
<polyline points="49.7,314.77 51.23,314.61 52.77,314.52 54.3,314.5 55.84,314.53 57.37,314.59 58.91,314.66 60.44,314.81 61.97,315.05 63.51,315.76 65.04,317.11 66.58,318.83 68.11,320.68 69.65,322.3 71.18,323.31 72.71,323.77 74.25,323.99 75.78,324.12 77.32,324.58 78.85,325.44 80.39,326.96 81.92,329.05 83.45,331.31 84.99,333.68 86.52,335.99 88.06,338.14 89.59,340.22 91.13,342.3 92.66,344.47 94.19,346.68 95.73,348.95 97.26,351.44 98.8,354.3 100.33,357.87 101.87,362.04 103.4,366.34 104.93,370.38 106.47,374.26 108,377.99 109.54,381.39 111.07,384.6 112.61,386.98 114.14,388.5 115.67,389.67 117.21,390.56 118.74,391.23 120.28,391.75 121.81,392.24 123.35,392.79 124.88,393.44 126.41,394.12 127.95,394.83 129.48,395.53 131.02,396.23 132.55,396.95 134.09,397.65 135.62,398.28 137.15,398.88 138.69,399.45 140.22,399.97 141.76,400.4 143.29,400.81 144.83,401.16 146.36,401.3 147.89,401.25 149.43,401.16 150.96,401.04 152.5,400.74 154.03,400.15 155.57,399.37 157.1,398.51 158.63,397.45 160.17,396.09 161.7,394.5 163.24,392.76 164.77,390.79 166.31,388.51 167.84,386 169.37,383.35 170.91,380.62 172.44,377.87 173.98,374.94 175.51,371.87 177.05,368.77 178.58,365.74 180.11,362.71 181.65,359.62 183.18,356.54 184.72,353.57 186.25,350.78 187.79,348.26 189.32,345.99 190.85,343.88 192.39,341.96 193.92,340.23 195.46,338.69 196.99,337.3 198.53,336 200.06,334.77 201.59,333.57 203.13,332.45 204.66,331.49 206.2,330.66 207.73,329.93 209.27,329.3 210.8,328.79 212.33,328.34 213.87,327.95 215.4,327.64 216.94,327.38 218.47,327.17 220.01,327.03 221.54,326.91 223.07,326.81 224.61,326.73 226.14,326.67 227.68,326.64 229.21,326.64 230.75,326.65 232.28,326.66 233.81,326.67 235.35,326.68 236.88,326.7 238.42,326.71 239.95,326.72 241.49,326.72 243.02,326.73 244.55,326.74 246.09,326.74 247.62,326.75 249.16,326.76 250.69,326.76 252.23,326.77 253.76,326.77 255.29,326.78 256.83,326.78 258.36,326.79 259.9,326.79 261.43,326.79 262.97,326.8 264.5,326.8" fill="none" stroke="#000" stroke-width="0.8" stroke-linejoin="round" stroke-linecap="round" />
<polyline points="49.7,323.98 51.23,323.66 52.77,323.33 54.3,322.98 55.84,322.6 57.37,322.23 58.91,321.93 60.44,321.68 61.97,321.49 63.51,321.4 65.04,321.52 66.58,321.86 68.11,322.35 69.65,323.14 71.18,324.34 72.71,325.75 74.25,327.39 75.78,329.1 77.32,330.77 78.85,332.5 80.39,334.39 81.92,336.32 83.45,338.09 84.99,339.65 86.52,341.09 88.06,342.57 89.59,344.22 91.13,346.1 92.66,348.23 94.19,350.64 95.73,353.36 97.26,356.71 98.8,360.71 100.33,365 101.87,369.1 103.4,373.04 104.93,376.82 106.47,380.31 108,383.62 109.54,386.26 111.07,388.03 112.61,389.25 114.14,390.12 115.67,390.75 117.21,391.24 118.74,391.64 120.28,392 121.81,392.4 123.35,392.86 124.88,393.42 126.41,394.07 127.95,394.77 129.48,395.47 131.02,396.17 132.55,396.88 134.09,397.58 135.62,398.21 137.15,398.8 138.69,399.37 140.22,399.88 141.76,400.32 143.29,400.72 144.83,401.07 146.36,401.21 147.89,401.16 149.43,401.07 150.96,400.95 152.5,400.64 154.03,400.05 155.57,399.27 157.1,398.41 158.63,397.35 160.17,395.99 161.7,394.41 163.24,392.67 164.77,390.7 166.31,388.42 167.84,385.92 169.37,383.26 170.91,380.54 172.44,377.8 173.98,374.87 175.51,371.81 177.05,368.71 178.58,365.68 180.11,362.66 181.65,359.58 183.18,356.5 184.72,353.54 186.25,350.75 187.79,348.24 189.32,345.97 190.85,343.87 192.39,341.95 193.92,340.22 195.46,338.69 196.99,337.29 198.53,336 200.06,334.77 201.59,333.58 203.13,332.46 204.66,331.49 206.2,330.67 207.73,329.94 209.27,329.31 210.8,328.79 212.33,328.34 213.87,327.96 215.4,327.64 216.94,327.39 218.47,327.18 220.01,327.03 221.54,326.92 223.07,326.81 224.61,326.73 226.14,326.67 227.68,326.65 229.21,326.65 230.75,326.65 232.28,326.66 233.81,326.67 235.35,326.68 236.88,326.7 238.42,326.71 239.95,326.72 241.49,326.72 243.02,326.73 244.55,326.74 246.09,326.74 247.62,326.75 249.16,326.76 250.69,326.76 252.23,326.77 253.76,326.77 255.29,326.78 256.83,326.78 258.36,326.79 259.9,326.79 261.43,326.79 262.97,326.8 264.5,326.8" fill="none" stroke="#000" stroke-width="0.8" stroke-linejoin="round" stroke-linecap="round" />
<polyline points="49.7,317.49 51.23,316.94 52.77,316.46 54.3,316.02 55.84,315.59 57.37,315.18 58.91,314.85 60.44,314.59 61.97,314.38 63.51,314.44 65.04,314.96 66.58,315.85 68.11,316.94 69.65,318.12 71.18,319.43 72.71,320.92 74.25,322.66 75.78,324.65 77.32,326.67 78.85,328.7 80.39,330.83 81.92,333.04 83.45,335.24 84.99,337.31 86.52,339.22 88.06,341.08 89.59,343.02 91.13,345.09 92.66,347.28 94.19,349.61 95.73,352.19 97.26,355.23 98.8,358.95 100.33,363.15 101.87,367.37 103.4,371.35 104.93,375.2 106.47,378.82 108,382.18 109.54,385.17 111.07,387.31 112.61,388.69 114.14,389.7 115.67,390.46 117.21,391 118.74,391.44 120.28,391.84 121.81,392.25 123.35,392.73 124.88,393.31 126.41,393.96 127.95,394.65 129.48,395.34 131.02,396.04 132.55,396.75 134.09,397.43 135.62,398.06 137.15,398.65 138.69,399.21 140.22,399.72 141.76,400.15 143.29,400.55 144.83,400.89 146.36,401.03 147.89,400.98 149.43,400.88 150.96,400.76 152.5,400.45 154.03,399.85 155.57,399.08 157.1,398.21 158.63,397.16 160.17,395.8 161.7,394.22 163.24,392.48 164.77,390.51 166.31,388.24 167.84,385.74 169.37,383.1 170.91,380.38 172.44,377.65 173.98,374.74 175.51,371.68 177.05,368.59 178.58,365.58 180.11,362.57 181.65,359.49 183.18,356.43 184.72,353.47 186.25,350.7 187.79,348.2 189.32,345.94 190.85,343.85 192.39,341.93 193.92,340.21 195.46,338.68 196.99,337.29 198.53,336.01 200.06,334.78 201.59,333.58 203.13,332.47 204.66,331.51 206.2,330.68 207.73,329.95 209.27,329.32 210.8,328.81 212.33,328.35 213.87,327.97 215.4,327.66 216.94,327.4 218.47,327.19 220.01,327.04 221.54,326.93 223.07,326.82 224.61,326.74 226.14,326.68 227.68,326.65 229.21,326.65 230.75,326.66 232.28,326.66 233.81,326.68 235.35,326.69 236.88,326.7 238.42,326.71 239.95,326.72 241.49,326.72 243.02,326.73 244.55,326.74 246.09,326.74 247.62,326.75 249.16,326.76 250.69,326.76 252.23,326.77 253.76,326.77 255.29,326.78 256.83,326.78 258.36,326.79 259.9,326.79 261.43,326.79 262.97,326.8 264.5,326.8" fill="none" stroke="#000" stroke-width="0.8" stroke-linejoin="round" stroke-linecap="round" />
<polyline points="49.7,324.15 51.23,323.83 52.77,323.5 54.3,323.15 55.84,322.77 57.37,322.35 58.91,321.93 60.44,321.56 61.97,321.24 63.51,320.96 65.04,320.79 66.58,320.8 68.11,321.01 69.65,321.35 71.18,321.95 72.71,322.72 74.25,323.46 75.78,324.38 77.32,325.47 78.85,326.79 80.39,328.57 81.92,330.76 83.45,333.06 84.99,335.35 86.52,337.51 88.06,339.57 89.59,341.61 91.13,343.75 92.66,345.96 94.19,348.22 95.73,350.64 97.26,353.35 98.8,356.65 100.33,360.59 101.87,364.83 103.4,368.91 104.93,372.82 106.47,376.59 108,380.07 109.54,383.35 111.07,385.99 112.61,387.73 114.14,388.93 115.67,389.83 117.21,390.51 118.74,391.04 120.28,391.48 121.81,391.91 123.35,392.4 124.88,392.98 126.41,393.63 127.95,394.3 129.48,394.97 131.02,395.65 132.55,396.34 134.09,397.01 135.62,397.62 137.15,398.19 138.69,398.74 140.22,399.23 141.76,399.65 143.29,400.04 144.83,400.37 146.36,400.49 147.89,400.43 149.43,400.32 150.96,400.19 152.5,399.87 154.03,399.27 155.57,398.49 157.1,397.63 158.63,396.57 160.17,395.22 161.7,393.64 163.24,391.91 164.77,389.96 166.31,387.7 167.84,385.23 169.37,382.6 170.91,379.91 172.44,377.2 173.98,374.32 175.51,371.3 177.05,368.24 178.58,365.26 180.11,362.28 181.65,359.24 183.18,356.22 184.72,353.29 186.25,350.55 187.79,348.08 189.32,345.84 190.85,343.77 192.39,341.87 193.92,340.17 195.46,338.66 196.99,337.28 198.53,336.01 200.06,334.79 201.59,333.61 203.13,332.5 204.66,331.54 206.2,330.72 207.73,329.99 209.27,329.36 210.8,328.84 212.33,328.39 213.87,328.01 215.4,327.69 216.94,327.43 218.47,327.22 220.01,327.07 221.54,326.96 223.07,326.85 224.61,326.76 226.14,326.7 227.68,326.67 229.21,326.67 230.75,326.67 232.28,326.68 233.81,326.69 235.35,326.7 236.88,326.71 238.42,326.72 239.95,326.73 241.49,326.73 243.02,326.74 244.55,326.74 246.09,326.75 247.62,326.75 249.16,326.76 250.69,326.76 252.23,326.77 253.76,326.78 255.29,326.78 256.83,326.78 258.36,326.79 259.9,326.79 261.43,326.8 262.97,326.8 264.5,326.8" fill="none" stroke="#000" stroke-width="0.8" stroke-linejoin="round" stroke-linecap="round" />
<polyline points="49.7,329.04 51.23,327.81 52.77,326.63 54.3,325.48 55.84,324.39 57.37,323.43 58.91,322.66 60.44,322.1 61.97,321.76 63.51,321.64 65.04,321.71 66.58,322.01 68.11,322.44 69.65,323.18 71.18,324.33 72.71,325.43 74.25,326.36 75.78,327.18 77.32,328.02 78.85,329.19 80.39,331.02 81.92,333.31 83.45,335.57 84.99,337.71 86.52,339.75 88.06,341.8 89.59,343.95 91.13,346.17 92.66,348.45 94.19,350.9 95.73,353.63 97.26,356.95 98.8,360.89 100.33,365.09 101.87,369.12 103.4,372.99 104.93,376.73 106.47,380.16 108,383.39 109.54,385.95 111.07,387.62 112.61,388.75 114.14,389.55 115.67,390.14 117.21,390.58 118.74,390.93 120.28,391.26 121.81,391.61 123.35,392.03 124.88,392.54 126.41,393.13 127.95,393.78 129.48,394.42 131.02,395.06 132.55,395.72 134.09,396.36 135.62,396.95 137.15,397.5 138.69,398.02 140.22,398.5 141.76,398.9 143.29,399.27 144.83,399.58 146.36,399.69 147.89,399.61 149.43,399.49 150.96,399.33 152.5,399 154.03,398.4 155.57,397.61 157.1,396.75 158.63,395.69 160.17,394.35 161.7,392.78 163.24,391.07 164.77,389.13 166.31,386.9 167.84,384.45 169.37,381.86 170.91,379.21 172.44,376.54 173.98,373.69 175.51,370.72 177.05,367.71 178.58,364.78 180.11,361.85 181.65,358.86 183.18,355.89 184.72,353.02 186.25,350.33 187.79,347.89 189.32,345.69 190.85,343.66 192.39,341.79 193.92,340.12 195.46,338.63 196.99,337.27 198.53,336.02 200.06,334.81 201.59,333.64 203.13,332.54 204.66,331.59 206.2,330.77 207.73,330.04 209.27,329.42 210.8,328.9 212.33,328.45 213.87,328.06 215.4,327.75 216.94,327.49 218.47,327.27 220.01,327.12 221.54,327 223.07,326.89 224.61,326.8 226.14,326.74 227.68,326.7 229.21,326.7 230.75,326.7 232.28,326.7 233.81,326.71 235.35,326.71 236.88,326.72 238.42,326.73 239.95,326.73 241.49,326.74 243.02,326.74 244.55,326.75 246.09,326.75 247.62,326.76 249.16,326.76 250.69,326.77 252.23,326.77 253.76,326.78 255.29,326.78 256.83,326.79 258.36,326.79 259.9,326.79 261.43,326.8 262.97,326.8 264.5,326.8" fill="none" stroke="#000" stroke-width="0.8" stroke-linejoin="round" stroke-linecap="round" />
<polyline points="49.7,315.08 51.23,314.89 52.77,314.77 54.3,314.69 55.84,314.64 57.37,314.61 58.91,314.61 60.44,314.69 61.97,314.84 63.51,315.4 65.04,316.53 66.58,318.04 68.11,319.7 69.65,321.16 71.18,322.24 72.71,322.94 74.25,323.47 75.78,324.06 77.32,324.85 78.85,325.95 80.39,327.64 81.92,329.84 83.45,332.19 84.99,334.58 86.52,336.88 88.06,339.07 89.59,341.22 91.13,343.42 92.66,345.67 94.19,347.97 95.73,350.39 97.26,353.04 98.8,356.16 100.33,359.9 101.87,364 103.4,368.05 104.93,371.91 106.47,375.65 108,379.14 109.54,382.36 111.07,385.08 112.61,386.92 114.14,388.11 115.67,389 117.21,389.66 118.74,390.15 120.28,390.55 121.81,390.93 123.35,391.37 124.88,391.89 126.41,392.47 127.95,393.07 129.48,393.67 131.02,394.28 132.55,394.91 134.09,395.51 135.62,396.06 137.15,396.58 138.69,397.07 140.22,397.52 141.76,397.9 143.29,398.24 144.83,398.53 146.36,398.61 147.89,398.51 149.43,398.37 150.96,398.19 152.5,397.84 154.03,397.23 155.57,396.44 157.1,395.57 158.63,394.52 160.17,393.19 161.7,391.64 163.24,389.94 164.77,388.02 166.31,385.82 167.84,383.41 169.37,380.86 170.91,378.26 172.44,375.64 173.98,372.86 175.51,369.95 177.05,367.01 178.58,364.13 180.11,361.28 181.65,358.36 183.18,355.46 184.72,352.65 186.25,350.02 187.79,347.65 189.32,345.5 190.85,343.5 192.39,341.68 193.92,340.05 195.46,338.59 196.99,337.26 198.53,336.03 200.06,334.84 201.59,333.68 203.13,332.6 204.66,331.66 206.2,330.84 207.73,330.12 209.27,329.49 210.8,328.98 212.33,328.52 213.87,328.14 215.4,327.82 216.94,327.56 218.47,327.34 220.01,327.18 221.54,327.06 223.07,326.94 224.61,326.85 226.14,326.78 227.68,326.74 229.21,326.73 230.75,326.73 232.28,326.73 233.81,326.73 235.35,326.74 236.88,326.74 238.42,326.75 239.95,326.75 241.49,326.75 243.02,326.75 244.55,326.75 246.09,326.76 247.62,326.76 249.16,326.77 250.69,326.77 252.23,326.78 253.76,326.78 255.29,326.78 256.83,326.79 258.36,326.79 259.9,326.79 261.43,326.8 262.97,326.8 264.5,326.8" fill="none" stroke="#000" stroke-width="0.8" stroke-linejoin="round" stroke-linecap="round" />
<polyline points="49.7,319.08 51.23,318.39 52.77,317.81 54.3,317.31 55.84,316.87 57.37,316.47 58.91,316.11 60.44,315.81 61.97,315.57 63.51,315.59 65.04,315.98 66.58,316.68 68.11,317.58 69.65,318.49 71.18,319.34 72.71,320.14 74.25,321.01 75.78,322.05 77.32,323.31 78.85,324.78 80.39,326.64 81.92,328.9 83.45,331.36 84.99,333.91 86.52,336.41 88.06,338.79 89.59,341.12 91.13,343.44 92.66,345.77 94.19,348.12 95.73,350.58 97.26,353.24 98.8,356.31 100.33,359.93 101.87,363.91 103.4,367.87 104.93,371.65 106.47,375.33 108,378.77 109.54,381.91 111.07,384.55 112.61,386.33 114.14,387.43 115.67,388.22 117.21,388.81 118.74,389.23 120.28,389.56 121.81,389.88 123.35,390.25 124.88,390.71 126.41,391.2 127.95,391.73 129.48,392.25 131.02,392.79 132.55,393.34 134.09,393.87 135.62,394.35 137.15,394.81 138.69,395.25 140.22,395.65 141.76,395.98 143.29,396.27 144.83,396.51 146.36,396.55 147.89,396.41 149.43,396.22 150.96,396 152.5,395.62 154.03,394.99 155.57,394.2 157.1,393.32 158.63,392.28 160.17,390.96 161.7,389.44 163.24,387.77 164.77,385.9 166.31,383.75 167.84,381.42 169.37,378.96 170.91,376.45 172.44,373.93 173.98,371.26 175.51,368.47 177.05,365.65 178.58,362.91 180.11,360.18 181.65,357.39 183.18,354.63 184.72,351.95 186.25,349.45 187.79,347.17 189.32,345.12 190.85,343.21 192.39,341.47 193.92,339.9 195.46,338.51 196.99,337.23 198.53,336.04 200.06,334.9 201.59,333.77 203.13,332.71 204.66,331.79 206.2,330.98 207.73,330.26 209.27,329.64 210.8,329.12 212.33,328.67 213.87,328.28 215.4,327.96 216.94,327.69 218.47,327.47 220.01,327.3 221.54,327.17 223.07,327.05 224.61,326.94 226.14,326.87 227.68,326.82 229.21,326.8 230.75,326.79 232.28,326.78 233.81,326.78 235.35,326.78 236.88,326.78 238.42,326.77 239.95,326.77 241.49,326.77 243.02,326.77 244.55,326.77 246.09,326.77 247.62,326.77 249.16,326.78 250.69,326.78 252.23,326.78 253.76,326.78 255.29,326.79 256.83,326.79 258.36,326.79 259.9,326.79 261.43,326.8 262.97,326.8 264.5,326.8" fill="none" stroke="#000" stroke-width="0.8" stroke-linejoin="round" stroke-linecap="round" />
<polyline points="49.7,316.94 51.23,316.24 52.77,315.65 54.3,315.15 55.84,314.7 57.37,314.31 58.91,313.98 60.44,313.73 61.97,313.54 63.51,313.94 65.04,315.24 66.58,317.12 68.11,319.16 69.65,321.01 71.18,322.46 72.71,323.56 74.25,324.65 75.78,325.79 77.32,326.93 78.85,328.31 80.39,330.17 81.92,332.4 83.45,334.69 84.99,336.94 86.52,339.11 88.06,341.26 89.59,343.47 91.13,345.78 92.66,348.2 94.19,350.73 95.73,353.41 97.26,356.35 98.8,359.75 100.33,363.51 101.87,367.3 103.4,370.93 104.93,374.49 106.47,377.86 108,380.87 109.54,383.44 111.07,385.16 112.61,386.1 114.14,386.7 115.67,387.13 117.21,387.39 118.74,387.58 120.28,387.75 121.81,387.93 123.35,388.15 124.88,388.44 126.41,388.78 127.95,389.15 129.48,389.53 131.02,389.93 132.55,390.34 134.09,390.73 135.62,391.09 137.15,391.43 138.69,391.76 140.22,392.06 141.76,392.3 143.29,392.51 144.83,392.66 146.36,392.61 147.89,392.4 149.43,392.12 150.96,391.82 152.5,391.37 154.03,390.71 155.57,389.9 157.1,389.02 158.63,387.98 160.17,386.71 161.7,385.24 163.24,383.63 164.77,381.83 166.31,379.8 167.84,377.61 169.37,375.32 170.91,372.99 172.44,370.66 173.98,368.2 175.51,365.64 177.05,363.07 178.58,360.56 180.11,358.07 181.65,355.55 183.18,353.04 184.72,350.62 186.25,348.34 187.79,346.27 189.32,344.39 190.85,342.65 192.39,341.06 193.92,339.64 195.46,338.36 196.99,337.18 198.53,336.07 200.06,335 201.59,333.93 203.13,332.93 204.66,332.03 206.2,331.25 207.73,330.53 209.27,329.92 210.8,329.4 212.33,328.95 213.87,328.56 215.4,328.23 216.94,327.95 218.47,327.71 220.01,327.53 221.54,327.38 223.07,327.24 224.61,327.12 226.14,327.03 227.68,326.97 229.21,326.93 230.75,326.91 232.28,326.89 233.81,326.87 235.35,326.85 236.88,326.84 238.42,326.83 239.95,326.82 241.49,326.81 243.02,326.8 244.55,326.8 246.09,326.79 247.62,326.79 249.16,326.79 250.69,326.79 252.23,326.79 253.76,326.79 255.29,326.79 256.83,326.79 258.36,326.8 259.9,326.8 261.43,326.8 262.97,326.8 264.5,326.8" fill="none" stroke="#000" stroke-width="0.8" stroke-linejoin="round" stroke-linecap="round" />
<polyline points="49.7,319.43 51.23,319.22 52.77,319.01 54.3,318.81 55.84,318.61 57.37,318.41 58.91,318.22 60.44,318.06 61.97,317.96 63.51,318.21 65.04,319.01 66.58,320.17 68.11,321.46 69.65,322.72 71.18,323.89 72.71,324.69 74.25,325.28 75.78,325.7 77.32,326.13 78.85,327.08 80.39,328.95 81.92,331.48 83.45,334.05 84.99,336.63 86.52,339.16 88.06,341.66 89.59,344.19 91.13,346.79 92.66,349.48 94.19,352.3 95.73,355.15 97.26,358.01 98.8,361.06 100.33,364.25 101.87,367.46 103.4,370.59 104.93,373.78 106.47,376.81 108,379.36 109.54,381.37 111.07,382.5 112.61,382.83 114.14,382.86 115.67,382.84 117.21,382.71 118.74,382.56 120.28,382.41 121.81,382.28 123.35,382.17 124.88,382.08 126.41,382.01 127.95,381.96 129.48,381.93 131.02,381.93 132.55,381.95 134.09,381.96 135.62,381.97 137.15,381.99 138.69,382.02 140.22,382.05 141.76,382.04 143.29,381.99 144.83,381.88 146.36,381.61 147.89,381.17 149.43,380.66 150.96,380.13 152.5,379.5 154.03,378.75 155.57,377.9 157.1,376.99 158.63,375.97 160.17,374.81 161.7,373.49 163.24,372.05 164.77,370.47 166.31,368.76 167.84,366.96 169.37,365.13 170.91,363.32 172.44,361.51 173.98,359.64 175.51,357.73 177.05,355.83 178.58,353.99 180.11,352.19 181.65,350.38 183.18,348.6 184.72,346.87 186.25,345.24 187.79,343.74 189.32,342.37 190.85,341.09 192.39,339.93 193.92,338.88 195.46,337.93 196.99,337.04 198.53,336.16 200.06,335.28 201.59,334.39 203.13,333.53 204.66,332.72 206.2,331.98 207.73,331.3 209.27,330.69 210.8,330.17 212.33,329.72 213.87,329.33 215.4,328.98 216.94,328.67 218.47,328.39 220.01,328.17 221.54,327.97 223.07,327.79 224.61,327.63 226.14,327.49 227.68,327.38 229.21,327.29 230.75,327.23 232.28,327.17 233.81,327.12 235.35,327.07 236.88,327.03 238.42,326.99 239.95,326.95 241.49,326.92 243.02,326.89 244.55,326.87 246.09,326.86 247.62,326.85 249.16,326.84 250.69,326.83 252.23,326.83 253.76,326.82 255.29,326.81 256.83,326.81 258.36,326.81 259.9,326.8 261.43,326.8 262.97,326.8 264.5,326.8" fill="none" stroke="#000" stroke-width="0.8" stroke-linejoin="round" stroke-linecap="round" />
<polyline points="49.7,315.27 51.23,314.63 52.77,314.09 54.3,313.66 55.84,313.31 57.37,313.04 58.91,312.82 60.44,312.62 61.97,312.43 63.51,312.59 65.04,313.3 66.58,314.41 68.11,315.7 69.65,316.84 71.18,317.66 72.71,318.32 74.25,319.2 75.78,320.94 77.32,323 78.85,325.05 80.39,327.3 81.92,329.66 83.45,332.01 84.99,334.41 86.52,336.88 88.06,339.46 89.59,342.13 91.13,344.94 92.66,347.88 94.19,351.03 95.73,354.31 97.26,357.51 98.8,360.43 100.33,363.17 101.87,365.82 103.4,368.41 104.93,371.02 106.47,373.8 108,376.57 109.54,378.79 111.07,380.4 112.61,381.19 114.14,381.18 115.67,380.77 117.21,380.34 118.74,379.85 120.28,379.36 121.81,378.9 123.35,378.44 124.88,377.97 126.41,377.51 127.95,377.07 129.48,376.63 131.02,376.21 132.55,375.79 134.09,375.36 135.62,374.93 137.15,374.5 138.69,374.09 140.22,373.68 141.76,373.25 143.29,372.78 144.83,372.25 146.36,371.64 147.89,370.91 149.43,370.08 150.96,369.19 152.5,368.25 154.03,367.25 155.57,366.22 157.1,365.16 158.63,364.06 160.17,362.95 161.7,361.78 163.24,360.55 164.77,359.26 166.31,357.94 167.84,356.63 169.37,355.34 170.91,354.08 172.44,352.81 173.98,351.54 175.51,350.28 177.05,349.05 178.58,347.87 180.11,346.76 181.65,345.69 183.18,344.64 184.72,343.63 186.25,342.65 187.79,341.71 189.32,340.81 190.85,339.96 192.39,339.18 193.92,338.44 195.46,337.74 196.99,337.06 198.53,336.37 200.06,335.67 201.59,334.95 203.13,334.23 204.66,333.52 206.2,332.84 207.73,332.19 209.27,331.6 210.8,331.08 212.33,330.63 213.87,330.23 215.4,329.86 216.94,329.52 218.47,329.21 220.01,328.93 221.54,328.68 223.07,328.46 224.61,328.25 226.14,328.06 227.68,327.9 229.21,327.77 230.75,327.66 232.28,327.56 233.81,327.46 235.35,327.37 236.88,327.29 238.42,327.21 239.95,327.15 241.49,327.09 243.02,327.04 244.55,327 246.09,326.97 247.62,326.95 249.16,326.92 250.69,326.9 252.23,326.88 253.76,326.87 255.29,326.85 256.83,326.83 258.36,326.82 259.9,326.81 261.43,326.81 262.97,326.8 264.5,326.8" fill="none" stroke="#000" stroke-width="0.8" stroke-linejoin="round" stroke-linecap="round" />
<polyline points="49.7,312.02 51.23,312.01 52.77,311.8 54.3,311.59 55.84,311.39 57.37,311.2 58.91,311.02 60.44,310.85 61.97,310.67 63.51,310.6 65.04,310.77 66.58,311.13 68.11,311.69 69.65,312.38 71.18,313.02 72.71,313.72 74.25,314.7 75.78,316.07 77.32,318.41 78.85,321.01 80.39,323.51 81.92,326.1 83.45,328.72 84.99,331.33 86.52,333.95 88.06,336.61 89.59,339.3 91.13,341.99 92.66,344.74 94.19,347.53 95.73,350.47 97.26,353.59 98.8,356.67 100.33,359.49 101.87,362.17 103.4,364.74 104.93,367.27 106.47,369.8 108,372.52 109.54,375.2 111.07,377.3 112.61,378.73 114.14,379.19 115.67,378.7 117.21,377.89 118.74,377.08 120.28,376.25 121.81,375.49 123.35,374.8 124.88,374.11 126.41,373.49 127.95,372.92 129.48,372.4 131.02,371.94 132.55,371.5 134.09,371.1 135.62,370.74 137.15,370.42 138.69,370.17 140.22,369.95 141.76,369.74 143.29,369.5 144.83,369.19 146.36,368.75 147.89,368.17 149.43,367.5 150.96,366.8 152.5,366.08 154.03,365.3 155.57,364.49 157.1,363.61 158.63,362.68 160.17,361.69 161.7,360.59 163.24,359.36 164.77,358.06 166.31,356.71 167.84,355.37 169.37,354.06 170.91,352.82 172.44,351.59 173.98,350.36 175.51,349.16 177.05,347.99 178.58,346.88 180.11,345.82 181.65,344.8 183.18,343.8 184.72,342.83 186.25,341.9 187.79,341.01 189.32,340.18 190.85,339.4 192.39,338.7 193.92,338.07 195.46,337.48 196.99,336.88 198.53,336.26 200.06,335.59 201.59,334.89 203.13,334.18 204.66,333.47 206.2,332.78 207.73,332.13 209.27,331.53 210.8,331 212.33,330.56 213.87,330.16 215.4,329.78 216.94,329.44 218.47,329.13 220.01,328.85 221.54,328.61 223.07,328.38 224.61,328.18 226.14,327.99 227.68,327.82 229.21,327.69 230.75,327.58 232.28,327.49 233.81,327.39 235.35,327.31 236.88,327.23 238.42,327.16 239.95,327.09 241.49,327.04 243.02,326.99 244.55,326.96 246.09,326.93 247.62,326.91 249.16,326.9 250.69,326.88 252.23,326.86 253.76,326.85 255.29,326.84 256.83,326.83 258.36,326.82 259.9,326.81 261.43,326.8 262.97,326.8 264.5,326.8" fill="none" stroke="#000" stroke-width="0.8" stroke-linejoin="round" stroke-linecap="round" />
<polyline points="49.7,312.9 51.23,312.71 52.77,312.58 54.3,312.49 55.84,312.44 57.37,312.44 58.91,312.45 60.44,312.48 61.97,312.55 63.51,312.9 65.04,313.7 66.58,314.8 68.11,315.98 69.65,317.07 71.18,318 72.71,318.95 74.25,320.54 75.78,322.65 77.32,324.8 78.85,327.02 80.39,329.36 81.92,331.73 83.45,334.08 84.99,336.47 86.52,338.9 88.06,341.39 89.59,343.98 91.13,346.69 92.66,349.61 94.19,352.76 95.73,355.93 97.26,358.9 98.8,361.67 100.33,364.31 101.87,366.89 103.4,369.45 104.93,372.12 106.47,374.86 108,377.23 109.54,378.98 111.07,379.95 112.61,380.07 114.14,379.64 115.67,379.08 117.21,378.52 118.74,377.93 120.28,377.36 121.81,376.82 123.35,376.28 124.88,375.73 126.41,375.18 127.95,374.65 129.48,374.16 131.02,373.7 132.55,373.26 134.09,372.84 135.62,372.45 137.15,372.09 138.69,371.76 140.22,371.46 141.76,371.16 143.29,370.82 144.83,370.43 146.36,369.93 147.89,369.3 149.43,368.58 150.96,367.82 152.5,367.01 154.03,366.15 155.57,365.25 157.1,364.3 158.63,363.3 160.17,362.26 161.7,361.15 163.24,359.93 164.77,358.64 166.31,357.33 167.84,356.01 169.37,354.72 170.91,353.47 172.44,352.22 173.98,350.97 175.51,349.74 177.05,348.55 178.58,347.4 180.11,346.31 181.65,345.26 183.18,344.24 184.72,343.25 186.25,342.29 187.79,341.38 189.32,340.51 190.85,339.7 192.39,338.95 193.92,338.27 195.46,337.62 196.99,336.97 198.53,336.32 200.06,335.63 201.59,334.93 203.13,334.21 204.66,333.5 206.2,332.81 207.73,332.16 209.27,331.57 210.8,331.04 212.33,330.6 213.87,330.2 215.4,329.82 216.94,329.48 218.47,329.17 220.01,328.89 221.54,328.65 223.07,328.42 224.61,328.22 226.14,328.03 227.68,327.86 229.21,327.73 230.75,327.62 232.28,327.52 233.81,327.43 235.35,327.34 236.88,327.26 238.42,327.19 239.95,327.12 241.49,327.07 243.02,327.02 244.55,326.98 246.09,326.95 247.62,326.93 249.16,326.91 250.69,326.89 252.23,326.87 253.76,326.86 255.29,326.84 256.83,326.83 258.36,326.82 259.9,326.81 261.43,326.81 262.97,326.8 264.5,326.8" fill="none" stroke="#000" stroke-width="0.8" stroke-linejoin="round" stroke-linecap="round" />
<polyline points="49.7,315.99 51.23,315.91 52.77,315.7 54.3,315.5 55.84,315.3 57.37,315.12 58.91,314.95 60.44,314.77 61.97,314.59 63.51,314.72 65.04,315.34 66.58,316.31 68.11,317.44 69.65,318.5 71.18,319.22 72.71,319.38 74.25,319.15 75.78,319.2 77.32,320 78.85,321.33 80.39,323.38 81.92,326.03 83.45,328.75 84.99,331.54 86.52,334.41 88.06,337.36 89.59,340.39 91.13,343.46 92.66,346.55 94.19,349.72 95.73,353.03 97.26,356.35 98.8,359.46 100.33,362.31 101.87,365.01 103.4,367.63 104.93,370.23 106.47,372.92 108,375.7 109.54,378.21 111.07,380.13 112.61,381.38 114.14,381.84 115.67,381.66 117.21,381.27 118.74,380.82 120.28,380.33 121.81,379.85 123.35,379.38 124.88,378.91 126.41,378.45 127.95,378 129.48,377.56 131.02,377.12 132.55,376.67 134.09,376.23 135.62,375.77 137.15,375.31 138.69,374.85 140.22,374.38 141.76,373.9 143.29,373.39 144.83,372.83 146.36,372.21 147.89,371.5 149.43,370.67 150.96,369.77 152.5,368.8 154.03,367.77 155.57,366.71 157.1,365.61 158.63,364.49 160.17,363.37 161.7,362.21 163.24,361.01 164.77,359.76 166.31,358.49 167.84,357.22 169.37,355.95 170.91,354.7 172.44,353.42 173.98,352.13 175.51,350.85 177.05,349.59 178.58,348.39 180.11,347.25 181.65,346.15 183.18,345.08 184.72,344.05 186.25,343.04 187.79,342.07 189.32,341.15 190.85,340.26 192.39,339.43 193.92,338.63 195.46,337.88 196.99,337.15 198.53,336.43 200.06,335.72 201.59,334.99 203.13,334.26 204.66,333.55 206.2,332.87 207.73,332.23 209.27,331.64 210.8,331.12 212.33,330.67 213.87,330.27 215.4,329.9 216.94,329.56 218.47,329.25 220.01,328.97 221.54,328.72 223.07,328.5 224.61,328.29 226.14,328.11 227.68,327.94 229.21,327.81 230.75,327.7 232.28,327.59 233.81,327.5 235.35,327.41 236.88,327.32 238.42,327.24 239.95,327.18 241.49,327.12 243.02,327.06 244.55,327.02 246.09,326.99 247.62,326.96 249.16,326.94 250.69,326.92 252.23,326.89 253.76,326.87 255.29,326.86 256.83,326.84 258.36,326.83 259.9,326.81 261.43,326.81 262.97,326.8 264.5,326.8" fill="none" stroke="#000" stroke-width="0.8" stroke-linejoin="round" stroke-linecap="round" />
<polyline points="49.7,314.27 51.23,314.05 52.77,313.84 54.3,313.65 55.84,313.46 57.37,313.28 58.91,313.11 60.44,312.93 61.97,312.74 63.51,312.59 65.04,312.53 66.58,312.65 68.11,312.93 69.65,313.3 71.18,313.82 72.71,314.62 74.25,315.8 75.78,318 77.32,320.53 78.85,323 80.39,325.6 81.92,328.25 83.45,330.91 84.99,333.63 86.52,336.44 88.06,339.34 89.59,342.32 91.13,345.37 92.66,348.49 94.19,351.77 95.73,355.16 97.26,358.39 98.8,361.31 100.33,364.06 101.87,366.7 103.4,369.3 104.93,371.92 106.47,374.72 108,377.46 109.54,379.61 111.07,381.17 112.61,381.93 114.14,381.95 115.67,381.62 117.21,381.26 118.74,380.84 120.28,380.4 121.81,379.97 123.35,379.53 124.88,379.09 126.41,378.64 127.95,378.2 129.48,377.76 131.02,377.32 132.55,376.88 134.09,376.43 135.62,375.96 137.15,375.5 138.69,375.03 140.22,374.56 141.76,374.06 143.29,373.54 144.83,372.98 146.36,372.35 147.89,371.63 149.43,370.8 150.96,369.89 152.5,368.91 154.03,367.87 155.57,366.79 157.1,365.68 158.63,364.56 160.17,363.43 161.7,362.28 163.24,361.07 164.77,359.83 166.31,358.56 167.84,357.29 169.37,356.03 170.91,354.77 172.44,353.49 173.98,352.2 175.51,350.91 177.05,349.65 178.58,348.44 180.11,347.3 181.65,346.2 183.18,345.13 184.72,344.09 186.25,343.09 187.79,342.11 189.32,341.18 190.85,340.3 192.39,339.45 193.92,338.66 195.46,337.89 196.99,337.16 198.53,336.44 200.06,335.72 201.59,334.99 203.13,334.26 204.66,333.55 206.2,332.87 207.73,332.23 209.27,331.64 210.8,331.12 212.33,330.68 213.87,330.27 215.4,329.9 216.94,329.56 218.47,329.25 220.01,328.97 221.54,328.73 223.07,328.5 224.61,328.3 226.14,328.11 227.68,327.95 229.21,327.81 230.75,327.7 232.28,327.6 233.81,327.5 235.35,327.41 236.88,327.32 238.42,327.25 239.95,327.18 241.49,327.12 243.02,327.07 244.55,327.02 246.09,326.99 247.62,326.97 249.16,326.94 250.69,326.92 252.23,326.9 253.76,326.87 255.29,326.86 256.83,326.84 258.36,326.83 259.9,326.82 261.43,326.81 262.97,326.8 264.5,326.8" fill="none" stroke="#0f0" stroke-width="2.2" stroke-linejoin="round" stroke-linecap="round" />
<polyline points="49.7,315.23 51.23,315.3 52.77,315.25 54.3,315.11 55.84,314.97 57.37,314.84 58.91,314.72 60.44,314.6 61.97,314.47 63.51,314.34 65.04,314.22 66.58,314.18 68.11,314.26 69.65,314.5 71.18,314.84 72.71,315.22 74.25,315.71 75.78,316.48 77.32,317.98 78.85,320.13 80.39,322.46 81.92,324.89 83.45,327.4 84.99,329.93 86.52,332.56 88.06,335.37 89.59,338.43 91.13,341.79 92.66,345.41 94.19,349.2 95.73,353.18 97.26,357.2 98.8,360.9 100.33,364.16 101.87,367.08 103.4,369.82 104.93,372.47 106.47,375.14 108,377.91 109.54,380.62 111.07,382.85 112.61,384.5 114.14,385.53 115.67,385.87 117.21,385.59 118.74,384.94 120.28,384.17 121.81,383.31 123.35,382.46 124.88,381.67 126.41,380.95 127.95,380.27 129.48,379.62 131.02,378.99 132.55,378.4 134.09,377.84 135.62,377.29 137.15,376.75 138.69,376.2 140.22,375.63 141.76,375.04 143.29,374.45 144.83,373.85 146.36,373.26 147.89,372.62 149.43,371.85 150.96,370.96 152.5,369.96 154.03,368.88 155.57,367.75 157.1,366.59 158.63,365.44 160.17,364.32 161.7,363.22 163.24,362.11 164.77,360.99 166.31,359.85 167.84,358.69 169.37,357.5 170.91,356.27 172.44,354.97 173.98,353.64 175.51,352.3 177.05,350.98 178.58,349.7 180.11,348.5 181.65,347.34 183.18,346.22 184.72,345.12 186.25,344.05 187.79,343.01 189.32,342 190.85,341.02 192.39,340.07 193.92,339.13 195.46,338.23 196.99,337.38 198.53,336.59 200.06,335.82 201.59,335.07 203.13,334.33 204.66,333.62 206.2,332.94 207.73,332.31 209.27,331.73 210.8,331.22 212.33,330.78 213.87,330.37 215.4,330 216.94,329.66 218.47,329.35 220.01,329.07 221.54,328.83 223.07,328.6 224.61,328.4 226.14,328.21 227.68,328.05 229.21,327.91 230.75,327.79 232.28,327.69 233.81,327.59 235.35,327.49 236.88,327.4 238.42,327.32 239.95,327.25 241.49,327.18 243.02,327.13 244.55,327.08 246.09,327.04 247.62,327.01 249.16,326.98 250.69,326.95 252.23,326.92 253.76,326.9 255.29,326.87 256.83,326.85 258.36,326.83 259.9,326.82 261.43,326.81 262.97,326.8 264.5,326.8" fill="none" stroke="#000" stroke-width="0.8" stroke-linejoin="round" stroke-linecap="round" />
<polyline points="49.7,310.82 51.23,310.7 52.77,310.58 54.3,310.53 55.84,310.54 57.37,310.61 58.91,310.73 60.44,310.88 61.97,311.05 63.51,311.66 65.04,312.91 66.58,314.57 68.11,316.34 69.65,317.83 71.18,318.77 72.71,319.22 74.25,319.62 75.78,320.65 77.32,322.15 78.85,323.85 80.39,325.94 81.92,328.3 83.45,330.72 84.99,333.26 86.52,336.04 88.06,339.16 89.59,342.65 91.13,346.44 92.66,350.46 94.19,354.73 95.73,358.94 97.26,362.7 98.8,365.96 100.33,368.9 101.87,371.64 103.4,374.31 104.93,377.03 106.47,379.86 108,382.53 109.54,384.62 111.07,386.09 112.61,386.96 114.14,387.3 115.67,387.17 117.21,386.66 118.74,385.99 120.28,385.2 121.81,384.34 123.35,383.47 124.88,382.67 126.41,381.9 127.95,381.16 129.48,380.45 131.02,379.77 132.55,379.13 134.09,378.54 135.62,377.97 137.15,377.4 138.69,376.81 140.22,376.2 141.76,375.57 143.29,374.94 144.83,374.32 146.36,373.72 147.89,373.09 149.43,372.33 150.96,371.42 152.5,370.4 154.03,369.29 155.57,368.13 157.1,366.95 158.63,365.77 160.17,364.65 161.7,363.56 163.24,362.47 164.77,361.38 166.31,360.28 167.84,359.15 169.37,357.98 170.91,356.75 172.44,355.45 173.98,354.11 175.51,352.75 177.05,351.4 178.58,350.1 180.11,348.88 181.65,347.71 183.18,346.56 184.72,345.45 186.25,344.36 187.79,343.3 189.32,342.27 190.85,341.26 192.39,340.26 193.92,339.29 195.46,338.34 196.99,337.45 198.53,336.63 200.06,335.86 201.59,335.1 203.13,334.35 204.66,333.64 206.2,332.97 207.73,332.34 209.27,331.76 210.8,331.25 212.33,330.81 213.87,330.4 215.4,330.03 216.94,329.69 218.47,329.38 220.01,329.1 221.54,328.86 223.07,328.63 224.61,328.43 226.14,328.24 227.68,328.08 229.21,327.94 230.75,327.82 232.28,327.72 233.81,327.61 235.35,327.52 236.88,327.43 238.42,327.34 239.95,327.27 241.49,327.2 243.02,327.14 244.55,327.1 246.09,327.06 247.62,327.02 249.16,326.99 250.69,326.96 252.23,326.93 253.76,326.9 255.29,326.88 256.83,326.86 258.36,326.84 259.9,326.82 261.43,326.81 262.97,326.8 264.5,326.8" fill="none" stroke="#000" stroke-width="0.8" stroke-linejoin="round" stroke-linecap="round" />
<polyline points="49.7,317.25 51.23,316.98 52.77,316.55 54.3,316.15 55.84,315.78 57.37,315.44 58.91,315.15 60.44,314.91 61.97,314.69 63.51,314.5 65.04,314.37 66.58,314.34 68.11,314.49 69.65,314.79 71.18,315.19 72.71,315.75 74.25,316.6 75.78,317.96 77.32,320.17 78.85,322.62 80.39,325.04 81.92,327.5 83.45,329.91 84.99,332.34 86.52,334.91 88.06,337.75 89.59,340.98 91.13,344.6 92.66,348.53 94.19,352.72 95.73,357.06 97.26,361.13 98.8,364.65 100.33,367.74 101.87,370.58 103.4,373.3 104.93,376 106.47,378.81 108,381.65 109.54,384.14 111.07,385.94 112.61,387.17 114.14,387.83 115.67,387.97 117.21,387.63 118.74,387.03 120.28,386.3 121.81,385.47 123.35,384.64 124.88,383.88 126.41,383.16 127.95,382.47 129.48,381.8 131.02,381.15 132.55,380.53 134.09,379.94 135.62,379.36 137.15,378.76 138.69,378.13 140.22,377.46 141.76,376.77 143.29,376.06 144.83,375.36 146.36,374.68 147.89,373.96 149.43,373.12 150.96,372.13 152.5,371.02 154.03,369.83 155.57,368.59 157.1,367.34 158.63,366.11 160.17,364.93 161.7,363.8 163.24,362.68 164.77,361.56 166.31,360.44 167.84,359.29 169.37,358.1 170.91,356.86 172.44,355.55 173.98,354.2 175.51,352.83 177.05,351.47 178.58,350.17 180.11,348.94 181.65,347.76 183.18,346.61 184.72,345.5 186.25,344.4 187.79,343.34 189.32,342.3 190.85,341.29 192.39,340.29 193.92,339.31 195.46,338.36 196.99,337.46 198.53,336.64 200.06,335.86 201.59,335.1 203.13,334.36 204.66,333.64 206.2,332.97 207.73,332.34 209.27,331.77 210.8,331.26 212.33,330.81 213.87,330.41 215.4,330.03 216.94,329.69 218.47,329.38 220.01,329.11 221.54,328.86 223.07,328.64 224.61,328.43 226.14,328.25 227.68,328.08 229.21,327.94 230.75,327.83 232.28,327.72 233.81,327.62 235.35,327.52 236.88,327.43 238.42,327.35 239.95,327.27 241.49,327.21 243.02,327.15 244.55,327.1 246.09,327.06 247.62,327.03 249.16,326.99 250.69,326.96 252.23,326.93 253.76,326.9 255.29,326.88 256.83,326.86 258.36,326.84 259.9,326.82 261.43,326.81 262.97,326.8 264.5,326.8" fill="none" stroke="#000" stroke-width="0.8" stroke-linejoin="round" stroke-linecap="round" />
<polyline points="49.7,310.49 51.23,310.49 52.77,310.38 54.3,310.18 55.84,310 57.37,309.84 58.91,309.69 60.44,309.56 61.97,309.43 63.51,310.03 65.04,311.75 66.58,314.08 68.11,316.54 69.65,318.62 71.18,319.69 72.71,319.76 74.25,319.46 75.78,319.18 77.32,319.62 78.85,320.93 80.39,322.86 81.92,325.19 83.45,327.6 84.99,330.07 86.52,332.65 88.06,335.45 89.59,338.57 91.13,342.05 92.66,345.83 94.19,349.83 95.73,354.03 97.26,358.25 98.8,362.08 100.33,365.42 101.87,368.4 103.4,371.2 104.93,373.9 106.47,376.65 108,379.51 109.54,382.28 111.07,384.54 112.61,386.23 114.14,387.33 115.67,387.81 117.21,387.67 118.74,387.11 120.28,386.41 121.81,385.59 123.35,384.77 124.88,384.03 126.41,383.35 127.95,382.7 129.48,382.07 131.02,381.44 132.55,380.85 134.09,380.27 135.62,379.69 137.15,379.09 138.69,378.46 140.22,377.78 141.76,377.07 143.29,376.35 144.83,375.62 146.36,374.91 147.89,374.16 149.43,373.27 150.96,372.25 152.5,371.12 154.03,369.9 155.57,368.65 157.1,367.38 158.63,366.13 160.17,364.93 161.7,363.78 163.24,362.64 164.77,361.5 166.31,360.35 167.84,359.18 169.37,357.99 170.91,356.74 172.44,355.43 173.98,354.07 175.51,352.71 177.05,351.36 178.58,350.06 180.11,348.83 181.65,347.66 183.18,346.52 184.72,345.4 186.25,344.32 187.79,343.26 189.32,342.23 190.85,341.22 192.39,340.24 193.92,339.26 195.46,338.33 196.99,337.44 198.53,336.63 200.06,335.85 201.59,335.09 203.13,334.35 204.66,333.64 206.2,332.96 207.73,332.33 209.27,331.76 210.8,331.25 212.33,330.8 213.87,330.4 215.4,330.02 216.94,329.68 218.47,329.37 220.01,329.1 221.54,328.85 223.07,328.63 224.61,328.42 226.14,328.24 227.68,328.07 229.21,327.94 230.75,327.82 232.28,327.71 233.81,327.61 235.35,327.51 236.88,327.42 238.42,327.34 239.95,327.27 241.49,327.2 243.02,327.14 244.55,327.09 246.09,327.05 247.62,327.02 249.16,326.99 250.69,326.96 252.23,326.93 253.76,326.9 255.29,326.88 256.83,326.85 258.36,326.84 259.9,326.82 261.43,326.81 262.97,326.8 264.5,326.8" fill="none" stroke="#000" stroke-width="0.8" stroke-linejoin="round" stroke-linecap="round" />
<polyline points="49.7,320.03 51.23,318.99 52.77,317.98 54.3,317.08 55.84,316.35 57.37,315.76 58.91,315.32 60.44,315 61.97,314.78 63.51,314.87 65.04,315.4 66.58,316.21 68.11,317.18 69.65,318.11 71.18,318.73 72.71,318.97 74.25,319.06 75.78,319.3 77.32,320.33 78.85,321.99 80.39,323.96 81.92,326.19 83.45,328.47 84.99,330.8 86.52,333.3 88.06,336.1 89.59,339.33 91.13,343.05 92.66,347.15 94.19,351.53 95.73,356.15 97.26,360.65 98.8,364.57 100.33,367.91 101.87,370.88 103.4,373.65 104.93,376.34 106.47,379.11 108,381.97 109.54,384.62 111.07,386.63 112.61,388.06 114.14,388.94 115.67,389.35 117.21,389.09 118.74,388.36 120.28,387.47 121.81,386.42 123.35,385.37 124.88,384.42 126.41,383.56 127.95,382.74 129.48,381.96 131.02,381.21 132.55,380.52 134.09,379.88 135.62,379.27 137.15,378.65 138.69,378.01 140.22,377.32 141.76,376.62 143.29,375.92 144.83,375.24 146.36,374.62 147.89,373.98 149.43,373.2 150.96,372.25 152.5,371.18 154.03,370.01 155.57,368.78 157.1,367.54 158.63,366.33 160.17,365.18 161.7,364.09 163.24,363.03 164.77,361.98 166.31,360.92 167.84,359.82 169.37,358.67 170.91,357.45 172.44,356.14 173.98,354.78 175.51,353.39 177.05,352.01 178.58,350.68 180.11,349.43 181.65,348.23 183.18,347.06 184.72,345.91 186.25,344.8 187.79,343.71 189.32,342.64 190.85,341.59 192.39,340.54 193.92,339.5 195.46,338.5 196.99,337.55 198.53,336.7 200.06,335.91 201.59,335.13 203.13,334.39 204.66,333.67 206.2,333 207.73,332.37 209.27,331.8 210.8,331.29 212.33,330.85 213.87,330.45 215.4,330.07 216.94,329.73 218.47,329.42 220.01,329.15 221.54,328.9 223.07,328.68 224.61,328.47 226.14,328.29 227.68,328.12 229.21,327.99 230.75,327.87 232.28,327.76 233.81,327.65 235.35,327.55 236.88,327.46 238.42,327.38 239.95,327.3 241.49,327.23 243.02,327.17 244.55,327.12 246.09,327.08 247.62,327.04 249.16,327.01 250.69,326.97 252.23,326.94 253.76,326.91 255.29,326.88 256.83,326.86 258.36,326.84 259.9,326.82 261.43,326.81 262.97,326.8 264.5,326.8" fill="none" stroke="#000" stroke-width="0.8" stroke-linejoin="round" stroke-linecap="round" />
<polyline points="49.7,310.49 51.23,310.4 52.77,310.26 54.3,310.17 55.84,310.14 57.37,310.15 58.91,310.21 60.44,310.3 61.97,310.41 63.51,311.06 65.04,312.51 66.58,314.44 68.11,316.48 69.65,318.21 71.18,319.21 72.71,319.48 74.25,319.47 75.78,319.88 77.32,320.93 78.85,322.39 80.39,324.49 81.92,327.05 83.45,329.64 84.99,332.35 86.52,335.28 88.06,338.59 89.59,342.33 91.13,346.42 92.66,350.77 94.19,355.36 95.73,359.91 97.26,363.97 98.8,367.43 100.33,370.48 101.87,373.32 103.4,376.05 104.93,378.84 106.47,381.74 108,384.51 109.54,386.72 111.07,388.28 112.61,389.29 114.14,389.85 115.67,389.96 117.21,389.57 118.74,388.95 120.28,388.18 121.81,387.29 123.35,386.41 124.88,385.6 126.41,384.83 127.95,384.09 129.48,383.36 131.02,382.66 132.55,381.99 134.09,381.36 135.62,380.74 137.15,380.09 138.69,379.41 140.22,378.67 141.76,377.89 143.29,377.11 144.83,376.35 146.36,375.63 147.89,374.89 149.43,374.02 150.96,372.98 152.5,371.81 154.03,370.55 155.57,369.25 157.1,367.93 158.63,366.65 160.17,365.44 161.7,364.31 163.24,363.21 164.77,362.12 166.31,361.03 167.84,359.91 169.37,358.74 170.91,357.5 172.44,356.18 173.98,354.8 175.51,353.41 177.05,352.02 178.58,350.69 180.11,349.43 181.65,348.23 183.18,347.06 184.72,345.92 186.25,344.8 187.79,343.71 189.32,342.64 190.85,341.59 192.39,340.54 193.92,339.5 195.46,338.5 196.99,337.55 198.53,336.7 200.06,335.91 201.59,335.13 203.13,334.39 204.66,333.67 206.2,333 207.73,332.37 209.27,331.8 210.8,331.29 212.33,330.85 213.87,330.45 215.4,330.07 216.94,329.73 218.47,329.42 220.01,329.15 221.54,328.9 223.07,328.68 224.61,328.47 226.14,328.29 227.68,328.12 229.21,327.99 230.75,327.87 232.28,327.76 233.81,327.65 235.35,327.55 236.88,327.46 238.42,327.38 239.95,327.3 241.49,327.23 243.02,327.17 244.55,327.12 246.09,327.08 247.62,327.04 249.16,327.01 250.69,326.97 252.23,326.94 253.76,326.91 255.29,326.88 256.83,326.86 258.36,326.84 259.9,326.82 261.43,326.81 262.97,326.8 264.5,326.8" fill="none" stroke="#000" stroke-width="0.8" stroke-linejoin="round" stroke-linecap="round" />
<polyline points="49.7,322.77 51.23,322.56 52.77,322.23 54.3,321.85 55.84,321.42 57.37,320.94 58.91,320.42 60.44,319.86 61.97,319.25 63.51,318.27 65.04,316.8 66.58,315.23 68.11,313.88 69.65,312.99 71.18,312.91 72.71,313.52 74.25,314.53 75.78,316.43 77.32,318.83 78.85,321.27 80.39,323.81 81.92,326.45 83.45,329.21 84.99,332.15 86.52,335.35 88.06,338.89 89.59,342.77 91.13,346.86 92.66,351.07 94.19,355.46 95.73,359.74 97.26,363.51 98.8,366.77 100.33,369.7 101.87,372.44 103.4,375.11 104.93,377.85 106.47,380.7 108,383.35 109.54,385.36 111.07,386.77 112.61,387.58 114.14,387.91 115.67,387.76 117.21,387.23 118.74,386.54 120.28,385.72 121.81,384.83 123.35,383.93 124.88,383.1 126.41,382.31 127.95,381.54 129.48,380.8 131.02,380.1 132.55,379.44 134.09,378.83 135.62,378.25 137.15,377.67 138.69,377.07 140.22,376.44 141.76,375.79 143.29,375.14 144.83,374.51 146.36,373.92 147.89,373.29 149.43,372.53 150.96,371.62 152.5,370.59 154.03,369.47 155.57,368.29 157.1,367.1 158.63,365.92 160.17,364.79 161.7,363.7 163.24,362.63 164.77,361.55 166.31,360.46 167.84,359.34 169.37,358.18 170.91,356.96 172.44,355.66 173.98,354.31 175.51,352.94 177.05,351.58 178.58,350.27 180.11,349.04 181.65,347.86 183.18,346.71 184.72,345.59 186.25,344.49 187.79,343.42 189.32,342.38 190.85,341.36 192.39,340.35 193.92,339.35 195.46,338.39 196.99,337.48 198.53,336.65 200.06,335.87 201.59,335.11 203.13,334.36 204.66,333.65 206.2,332.98 207.73,332.35 209.27,331.78 210.8,331.26 212.33,330.82 213.87,330.41 215.4,330.04 216.94,329.7 218.47,329.39 220.01,329.12 221.54,328.87 223.07,328.65 224.61,328.44 226.14,328.26 227.68,328.09 229.21,327.95 230.75,327.84 232.28,327.73 233.81,327.63 235.35,327.53 236.88,327.44 238.42,327.35 239.95,327.28 241.49,327.21 243.02,327.15 244.55,327.1 246.09,327.06 247.62,327.03 249.16,327 250.69,326.96 252.23,326.93 253.76,326.91 255.29,326.88 256.83,326.86 258.36,326.84 259.9,326.82 261.43,326.81 262.97,326.8 264.5,326.8" fill="none" stroke="#000" stroke-width="0.8" stroke-linejoin="round" stroke-linecap="round" />
<polyline points="49.7,324.13 51.23,323.52 52.77,322.88 54.3,322.21 55.84,321.51 57.37,320.79 58.91,320.04 60.44,319.25 61.97,318.45 63.51,317.54 65.04,316.56 66.58,315.69 68.11,315.06 69.65,314.74 71.18,314.93 72.71,315.64 74.25,316.89 75.78,319.06 77.32,321.5 78.85,323.92 80.39,326.43 81.92,328.94 83.45,331.52 84.99,334.3 86.52,337.41 88.06,340.99 89.59,345.01 91.13,349.34 92.66,353.93 94.19,358.7 95.73,363.11 97.26,366.82 98.8,370.03 100.33,372.96 101.87,375.75 103.4,378.53 104.93,381.45 106.47,384.4 108,386.95 109.54,388.77 111.07,390.05 112.61,390.82 114.14,391.25 115.67,391.22 117.21,390.8 118.74,390.29 120.28,389.63 121.81,388.87 123.35,388.11 124.88,387.42 126.41,386.73 127.95,386.04 129.48,385.35 131.02,384.67 132.55,384.02 134.09,383.38 135.62,382.74 137.15,382.05 138.69,381.3 140.22,380.48 141.76,379.61 143.29,378.71 144.83,377.83 146.36,377.01 147.89,376.16 149.43,375.17 150.96,374.02 152.5,372.73 154.03,371.36 155.57,369.95 157.1,368.54 158.63,367.18 160.17,365.9 161.7,364.71 163.24,363.56 164.77,362.45 166.31,361.34 167.84,360.2 169.37,359.02 170.91,357.77 172.44,356.43 173.98,355.03 175.51,353.62 177.05,352.22 178.58,350.87 180.11,349.6 181.65,348.39 183.18,347.21 184.72,346.06 186.25,344.93 187.79,343.83 189.32,342.75 190.85,341.69 192.39,340.63 193.92,339.57 195.46,338.54 196.99,337.58 198.53,336.72 200.06,335.92 201.59,335.14 203.13,334.39 204.66,333.68 206.2,333.01 207.73,332.39 209.27,331.82 210.8,331.31 212.33,330.86 213.87,330.46 215.4,330.09 216.94,329.75 218.47,329.44 220.01,329.16 221.54,328.91 223.07,328.69 224.61,328.49 226.14,328.3 227.68,328.14 229.21,328 230.75,327.88 232.28,327.77 233.81,327.66 235.35,327.57 236.88,327.47 238.42,327.39 239.95,327.31 241.49,327.24 243.02,327.18 244.55,327.13 246.09,327.09 247.62,327.05 249.16,327.01 250.69,326.98 252.23,326.95 253.76,326.91 255.29,326.89 256.83,326.86 258.36,326.84 259.9,326.82 261.43,326.81 262.97,326.8 264.5,326.8" fill="none" stroke="#000" stroke-width="0.8" stroke-linejoin="round" stroke-linecap="round" />
<polyline points="49.7,313.88 51.23,314.13 52.77,314.32 54.3,314.45 55.84,314.51 57.37,314.52 58.91,314.47 60.44,314.36 61.97,314.21 63.51,314.02 65.04,313.83 66.58,313.72 68.11,313.7 69.65,313.81 71.18,314.17 72.71,314.89 74.25,316.29 75.78,318.36 77.32,320.61 78.85,322.95 80.39,325.46 81.92,328.12 83.45,330.99 84.99,334.15 86.52,337.7 88.06,341.7 89.59,346.03 91.13,350.56 92.66,355.23 94.19,359.84 95.73,363.97 97.26,367.47 98.8,370.56 100.33,373.43 101.87,376.18 103.4,378.99 104.93,381.91 106.47,384.73 108,387.02 109.54,388.65 111.07,389.72 112.61,390.35 114.14,390.57 115.67,390.38 117.21,389.93 118.74,389.38 120.28,388.71 121.81,387.96 123.35,387.21 124.88,386.51 126.41,385.81 127.95,385.1 129.48,384.4 131.02,383.72 132.55,383.06 134.09,382.43 135.62,381.8 137.15,381.13 138.69,380.42 140.22,379.63 141.76,378.81 143.29,377.97 144.83,377.14 146.36,376.36 147.89,375.56 149.43,374.62 150.96,373.52 152.5,372.28 154.03,370.97 155.57,369.61 157.1,368.24 158.63,366.91 160.17,365.67 161.7,364.5 163.24,363.37 164.77,362.27 166.31,361.16 167.84,360.03 169.37,358.85 170.91,357.6 172.44,356.27 173.98,354.89 175.51,353.48 177.05,352.09 178.58,350.75 180.11,349.49 181.65,348.29 183.18,347.11 184.72,345.97 186.25,344.85 187.79,343.75 189.32,342.68 190.85,341.62 192.39,340.57 193.92,339.52 195.46,338.51 196.99,337.56 198.53,336.71 200.06,335.91 201.59,335.14 203.13,334.39 204.66,333.68 206.2,333 207.73,332.38 209.27,331.81 210.8,331.3 212.33,330.85 213.87,330.45 215.4,330.08 216.94,329.74 218.47,329.43 220.01,329.15 221.54,328.9 223.07,328.68 224.61,328.48 226.14,328.29 227.68,328.13 229.21,327.99 230.75,327.87 232.28,327.76 233.81,327.66 235.35,327.56 236.88,327.47 238.42,327.38 239.95,327.3 241.49,327.23 243.02,327.17 244.55,327.12 246.09,327.08 247.62,327.04 249.16,327.01 250.69,326.98 252.23,326.94 253.76,326.91 255.29,326.89 256.83,326.86 258.36,326.84 259.9,326.82 261.43,326.81 262.97,326.8 264.5,326.8" fill="none" stroke="#000" stroke-width="0.8" stroke-linejoin="round" stroke-linecap="round" />
<polyline points="49.7,309.55 51.23,309.36 52.77,309.2 54.3,309.07 55.84,308.98 57.37,308.92 58.91,308.87 60.44,308.84 61.97,308.86 63.51,309.47 65.04,310.96 66.58,312.97 68.11,315.03 69.65,316.84 71.18,318.14 72.71,319.17 74.25,320.99 75.78,323.04 77.32,325.01 78.85,327.11 80.39,329.35 81.92,331.73 83.45,334.3 84.99,337.18 86.52,340.58 88.06,344.49 89.59,348.78 91.13,353.36 92.66,358.28 94.19,362.91 95.73,366.78 97.26,370.07 98.8,373.03 100.33,375.8 101.87,378.53 103.4,381.39 104.93,384.33 106.47,386.92 108,388.74 109.54,389.99 111.07,390.72 112.61,391.12 114.14,391.05 115.67,390.57 117.21,389.96 118.74,389.24 120.28,388.42 121.81,387.53 123.35,386.63 124.88,385.78 126.41,384.92 127.95,384.07 129.48,383.24 131.02,382.46 132.55,381.73 134.09,381.06 135.62,380.41 137.15,379.76 138.69,379.07 140.22,378.33 141.76,377.56 143.29,376.79 144.83,376.06 146.36,375.41 147.89,374.74 149.43,373.94 150.96,372.95 152.5,371.82 154.03,370.6 155.57,369.32 157.1,368.02 158.63,366.77 160.17,365.59 161.7,364.5 163.24,363.45 164.77,362.42 166.31,361.38 167.84,360.31 169.37,359.17 170.91,357.95 172.44,356.63 173.98,355.25 175.51,353.84 177.05,352.44 178.58,351.08 180.11,349.81 181.65,348.59 183.18,347.4 184.72,346.24 186.25,345.11 187.79,343.99 189.32,342.9 190.85,341.82 192.39,340.74 193.92,339.65 195.46,338.61 196.99,337.62 198.53,336.75 200.06,335.94 201.59,335.16 203.13,334.41 204.66,333.69 206.2,333.02 207.73,332.4 209.27,331.83 210.8,331.33 212.33,330.88 213.87,330.48 215.4,330.1 216.94,329.76 218.47,329.45 220.01,329.18 221.54,328.93 223.07,328.71 224.61,328.5 226.14,328.32 227.68,328.16 229.21,328.02 230.75,327.9 232.28,327.79 233.81,327.68 235.35,327.58 236.88,327.49 238.42,327.4 239.95,327.32 241.49,327.25 243.02,327.19 244.55,327.14 246.09,327.09 247.62,327.06 249.16,327.02 250.69,326.98 252.23,326.95 253.76,326.92 255.29,326.89 256.83,326.86 258.36,326.84 259.9,326.82 261.43,326.81 262.97,326.8 264.5,326.8" fill="none" stroke="#000" stroke-width="0.8" stroke-linejoin="round" stroke-linecap="round" />
<polyline points="49.7,324.01 51.23,323.02 52.77,322.07 54.3,321.19 55.84,320.39 57.37,319.68 58.91,319.07 60.44,318.55 61.97,318.15 63.51,317.88 65.04,317.77 66.58,317.85 68.11,318.08 69.65,318.38 71.18,318.81 72.71,319.22 74.25,319.72 75.78,320.91 77.32,322.38 78.85,324.05 80.39,326.27 81.92,328.8 83.45,331.41 84.99,334.2 86.52,337.29 88.06,340.79 89.59,344.68 91.13,348.84 92.66,353.22 94.19,357.76 95.73,362 97.26,365.61 98.8,368.74 100.33,371.6 101.87,374.32 103.4,377.02 104.93,379.83 106.47,382.67 108,385.13 109.54,386.87 111.07,388.03 112.61,388.65 114.14,388.85 115.67,388.6 117.21,388.01 118.74,387.32 120.28,386.5 121.81,385.6 123.35,384.71 124.88,383.88 126.41,383.06 127.95,382.27 129.48,381.51 131.02,380.78 132.55,380.11 134.09,379.48 135.62,378.88 137.15,378.28 138.69,377.65 140.22,376.99 141.76,376.31 143.29,375.62 144.83,374.96 146.36,374.35 147.89,373.71 149.43,372.94 150.96,372 152.5,370.94 154.03,369.79 155.57,368.59 157.1,367.36 158.63,366.16 160.17,365.02 161.7,363.93 163.24,362.86 164.77,361.8 166.31,360.73 167.84,359.62 169.37,358.46 170.91,357.24 172.44,355.94 173.98,354.58 175.51,353.2 177.05,351.83 178.58,350.51 180.11,349.26 181.65,348.07 183.18,346.91 184.72,345.77 186.25,344.67 187.79,343.59 189.32,342.53 190.85,341.49 192.39,340.46 193.92,339.44 195.46,338.45 196.99,337.52 198.53,336.68 200.06,335.89 201.59,335.12 203.13,334.38 204.66,333.66 206.2,332.99 207.73,332.36 209.27,331.79 210.8,331.28 212.33,330.84 213.87,330.43 215.4,330.06 216.94,329.72 218.47,329.41 220.01,329.13 221.54,328.89 223.07,328.66 224.61,328.46 226.14,328.27 227.68,328.11 229.21,327.97 230.75,327.85 232.28,327.75 233.81,327.64 235.35,327.54 236.88,327.45 238.42,327.37 239.95,327.29 241.49,327.22 243.02,327.16 244.55,327.11 246.09,327.07 247.62,327.04 249.16,327 250.69,326.97 252.23,326.94 253.76,326.91 255.29,326.88 256.83,326.86 258.36,326.84 259.9,326.82 261.43,326.81 262.97,326.8 264.5,326.8" fill="none" stroke="#000" stroke-width="0.8" stroke-linejoin="round" stroke-linecap="round" />
<polyline points="49.7,321.03 51.23,320.79 52.77,320.54 54.3,320.26 55.84,319.95 57.37,319.63 58.91,319.29 60.44,318.92 61.97,318.52 63.51,317.8 65.04,316.67 66.58,315.47 68.11,314.47 69.65,313.87 71.18,314.05 72.71,315.15 74.25,317.12 75.78,320.18 77.32,323.51 78.85,326.61 80.39,329.43 81.92,331.86 83.45,334.12 84.99,336.42 86.52,338.96 88.06,341.98 89.59,345.51 91.13,349.5 92.66,353.97 94.19,358.77 95.73,363.18 97.26,366.88 98.8,370.07 100.33,372.97 101.87,375.71 103.4,378.43 104.93,381.29 106.47,384.15 108,386.6 109.54,388.3 111.07,389.44 112.61,390.08 114.14,390.35 115.67,390.15 117.21,389.54 118.74,388.83 120.28,387.96 121.81,386.99 123.35,386.03 124.88,385.15 126.41,384.29 127.95,383.45 129.48,382.64 131.02,381.87 132.55,381.15 134.09,380.5 135.62,379.86 137.15,379.23 138.69,378.56 140.22,377.84 141.76,377.1 143.29,376.37 144.83,375.67 146.36,375.03 147.89,374.38 149.43,373.59 150.96,372.62 152.5,371.52 154.03,370.32 155.57,369.07 157.1,367.8 158.63,366.57 160.17,365.4 161.7,364.31 163.24,363.26 164.77,362.23 166.31,361.18 167.84,360.1 169.37,358.96 170.91,357.74 172.44,356.42 173.98,355.05 175.51,353.64 177.05,352.25 178.58,350.91 180.11,349.64 181.65,348.43 183.18,347.25 184.72,346.1 186.25,344.98 187.79,343.87 189.32,342.79 190.85,341.72 192.39,340.65 193.92,339.59 195.46,338.56 196.99,337.59 198.53,336.73 200.06,335.92 201.59,335.15 203.13,334.4 204.66,333.68 206.2,333.01 207.73,332.39 209.27,331.82 210.8,331.31 212.33,330.87 213.87,330.46 215.4,330.09 216.94,329.75 218.47,329.44 220.01,329.16 221.54,328.92 223.07,328.7 224.61,328.49 226.14,328.31 227.68,328.14 229.21,328 230.75,327.88 232.28,327.77 233.81,327.67 235.35,327.57 236.88,327.48 238.42,327.39 239.95,327.31 241.49,327.24 243.02,327.18 244.55,327.13 246.09,327.09 247.62,327.05 249.16,327.01 250.69,326.98 252.23,326.95 253.76,326.92 255.29,326.89 256.83,326.86 258.36,326.84 259.9,326.82 261.43,326.81 262.97,326.8 264.5,326.8" fill="none" stroke="#000" stroke-width="0.8" stroke-linejoin="round" stroke-linecap="round" />
<polyline points="49.7,310.81 51.23,310.76 52.77,310.55 54.3,310.36 55.84,310.18 57.37,310.02 58.91,309.87 60.44,309.74 61.97,309.59 63.51,310.13 65.04,311.73 66.58,313.94 68.11,316.31 69.65,318.32 71.18,319.41 72.71,319.83 74.25,320.3 75.78,321.15 77.32,322.76 78.85,324.63 80.39,326.6 81.92,328.71 83.45,330.81 84.99,332.99 86.52,335.41 88.06,338.24 89.59,341.64 91.13,345.59 92.66,349.98 94.19,354.69 95.73,359.52 97.26,363.9 98.8,367.57 100.33,370.73 101.87,373.61 103.4,376.35 104.93,379.09 106.47,381.95 108,384.77 109.54,387.12 111.07,388.74 112.61,389.83 114.14,390.44 115.67,390.64 117.21,390.25 118.74,389.52 120.28,388.6 121.81,387.54 123.35,386.47 124.88,385.51 126.41,384.61 127.95,383.76 129.48,382.93 131.02,382.15 132.55,381.43 134.09,380.76 135.62,380.12 137.15,379.47 138.69,378.79 140.22,378.06 141.76,377.31 143.29,376.56 144.83,375.85 146.36,375.2 147.89,374.55 149.43,373.76 150.96,372.78 152.5,371.67 154.03,370.46 155.57,369.2 157.1,367.92 158.63,366.68 160.17,365.51 161.7,364.42 163.24,363.37 164.77,362.34 166.31,361.3 167.84,360.23 169.37,359.1 170.91,357.88 172.44,356.56 173.98,355.18 175.51,353.77 177.05,352.38 178.58,351.02 180.11,349.75 181.65,348.54 183.18,347.35 184.72,346.2 186.25,345.06 187.79,343.95 189.32,342.86 190.85,341.79 192.39,340.71 193.92,339.63 195.46,338.59 196.99,337.61 198.53,336.74 200.06,335.93 201.59,335.15 203.13,334.4 204.66,333.69 206.2,333.02 207.73,332.4 209.27,331.83 210.8,331.32 212.33,330.88 213.87,330.47 215.4,330.1 216.94,329.76 218.47,329.45 220.01,329.17 221.54,328.93 223.07,328.7 224.61,328.5 226.14,328.32 227.68,328.15 229.21,328.01 230.75,327.89 232.28,327.78 233.81,327.68 235.35,327.58 236.88,327.48 238.42,327.4 239.95,327.32 241.49,327.25 243.02,327.19 244.55,327.14 246.09,327.09 247.62,327.05 249.16,327.02 250.69,326.98 252.23,326.95 253.76,326.92 255.29,326.89 256.83,326.86 258.36,326.84 259.9,326.82 261.43,326.81 262.97,326.8 264.5,326.8" fill="none" stroke="#000" stroke-width="0.8" stroke-linejoin="round" stroke-linecap="round" />
<polyline points="49.7,303.24 51.23,304.33 52.77,305.42 54.3,306.5 55.84,307.58 57.37,308.66 58.91,309.35 60.44,309.19 61.97,308.77 63.51,308.14 65.04,307.71 66.58,307.8 68.11,308.33 69.65,309.06 71.18,310.45 72.71,312.87 74.25,315.65 75.78,318.7 77.32,321.53 78.85,323.85 80.39,326.22 81.92,328.74 83.45,331.54 84.99,334.64 86.52,338.13 88.06,342.08 89.59,346.36 91.13,350.84 92.66,355.53 94.19,360.3 95.73,364.64 97.26,368.31 98.8,371.49 100.33,374.41 101.87,377.2 103.4,380.01 104.93,382.96 106.47,385.85 108,388.22 109.54,389.89 111.07,391.03 112.61,391.73 114.14,392.09 115.67,391.98 117.21,391.51 118.74,390.94 120.28,390.21 121.81,389.38 123.35,388.56 124.88,387.8 126.41,387.04 127.95,386.29 129.48,385.54 131.02,384.81 132.55,384.12 134.09,383.46 135.62,382.79 137.15,382.1 138.69,381.34 140.22,380.5 141.76,379.62 143.29,378.72 144.83,377.85 146.36,377.05 147.89,376.23 149.43,375.28 150.96,374.14 152.5,372.86 154.03,371.5 155.57,370.09 157.1,368.68 158.63,367.32 160.17,366.05 161.7,364.88 163.24,363.77 164.77,362.69 166.31,361.61 167.84,360.5 169.37,359.34 170.91,358.1 172.44,356.76 173.98,355.36 175.51,353.93 177.05,352.52 178.58,351.16 180.11,349.88 181.65,348.65 183.18,347.46 184.72,346.29 186.25,345.15 187.79,344.04 189.32,342.94 190.85,341.85 192.39,340.77 193.92,339.68 195.46,338.62 196.99,337.63 198.53,336.75 200.06,335.94 201.59,335.16 203.13,334.41 204.66,333.7 206.2,333.03 207.73,332.4 209.27,331.84 210.8,331.33 212.33,330.89 213.87,330.48 215.4,330.11 216.94,329.77 218.47,329.46 220.01,329.18 221.54,328.94 223.07,328.71 224.61,328.51 226.14,328.32 227.68,328.16 229.21,328.02 230.75,327.9 232.28,327.79 233.81,327.68 235.35,327.58 236.88,327.49 238.42,327.4 239.95,327.33 241.49,327.26 243.02,327.19 244.55,327.14 246.09,327.1 247.62,327.06 249.16,327.02 250.69,326.99 252.23,326.95 253.76,326.92 255.29,326.89 256.83,326.86 258.36,326.84 259.9,326.82 261.43,326.81 262.97,326.8 264.5,326.8" fill="none" stroke="#000" stroke-width="0.8" stroke-linejoin="round" stroke-linecap="round" />
<polyline points="49.7,298.72 51.23,298.93 52.77,300.35 54.3,301.76 55.84,303.16 57.37,304.56 58.91,305.94 60.44,307.17 61.97,307.4 63.51,307.28 65.04,306.78 66.58,306.36 68.11,306.51 69.65,307.22 71.18,308.16 72.71,309.58 74.25,312.22 75.78,315.15 77.32,318.21 78.85,321.13 80.39,323.4 81.92,325.66 83.45,328.09 84.99,330.86 86.52,333.97 88.06,337.45 89.59,341.42 91.13,345.77 92.66,350.28 94.19,354.97 95.73,359.85 97.26,364.38 98.8,368.2 100.33,371.46 101.87,374.42 103.4,377.21 104.93,379.99 106.47,382.93 108,385.87 109.54,388.37 111.07,390.1 112.61,391.32 114.14,392.09 115.67,392.5 117.21,392.28 118.74,391.64 120.28,390.81 121.81,389.81 123.35,388.8 124.88,387.9 126.41,387.06 127.95,386.26 129.48,385.47 131.02,384.71 132.55,383.99 134.09,383.31 135.62,382.64 137.15,381.94 138.69,381.17 140.22,380.34 141.76,379.46 143.29,378.57 144.83,377.71 146.36,376.94 147.89,376.16 149.43,375.23 150.96,374.12 152.5,372.86 154.03,371.51 155.57,370.11 157.1,368.72 158.63,367.37 160.17,366.11 161.7,364.96 163.24,363.87 164.77,362.82 166.31,361.76 167.84,360.68 169.37,359.53 170.91,358.29 172.44,356.95 173.98,355.55 175.51,354.12 177.05,352.7 178.58,351.33 180.11,350.04 181.65,348.8 183.18,347.6 184.72,346.43 186.25,345.29 187.79,344.16 189.32,343.05 190.85,341.95 192.39,340.85 193.92,339.74 195.46,338.67 196.99,337.66 198.53,336.77 200.06,335.96 201.59,335.17 203.13,334.42 204.66,333.71 206.2,333.04 207.73,332.42 209.27,331.85 210.8,331.34 212.33,330.9 213.87,330.49 215.4,330.12 216.94,329.78 218.47,329.47 220.01,329.19 221.54,328.95 223.07,328.73 224.61,328.52 226.14,328.34 227.68,328.17 229.21,328.03 230.75,327.92 232.28,327.8 233.81,327.7 235.35,327.6 236.88,327.5 238.42,327.41 239.95,327.34 241.49,327.26 243.02,327.2 244.55,327.15 246.09,327.1 247.62,327.06 249.16,327.03 250.69,326.99 252.23,326.95 253.76,326.92 255.29,326.89 256.83,326.87 258.36,326.84 259.9,326.83 261.43,326.81 262.97,326.8 264.5,326.8" fill="none" stroke="#000" stroke-width="0.8" stroke-linejoin="round" stroke-linecap="round" />
<polyline points="49.7,293.54 51.23,294.97 52.77,296.39 54.3,297.79 55.84,299.18 57.37,300.55 58.91,301.93 60.44,303.47 61.97,304.58 63.51,305.07 65.04,305.55 66.58,306.48 68.11,307.87 69.65,309.51 71.18,311.52 72.71,313.74 74.25,316.26 75.78,318.66 77.32,320.89 78.85,323.1 80.39,325.24 81.92,327.57 83.45,330.33 84.99,333.45 86.52,336.9 88.06,340.8 89.59,345 91.13,349.28 92.66,353.66 94.19,358.28 95.73,362.72 97.26,366.54 98.8,369.81 100.33,372.77 101.87,375.55 103.4,378.3 104.93,381.2 106.47,384.18 108,386.83 109.54,388.71 111.07,390.03 112.61,390.83 114.14,391.31 115.67,391.31 117.21,390.83 118.74,390.26 120.28,389.52 121.81,388.68 123.35,387.84 124.88,387.08 126.41,386.33 127.95,385.59 129.48,384.87 131.02,384.16 132.55,383.48 134.09,382.83 135.62,382.18 137.15,381.51 138.69,380.77 140.22,379.96 141.76,379.11 143.29,378.25 144.83,377.41 146.36,376.63 147.89,375.83 149.43,374.89 150.96,373.77 152.5,372.53 154.03,371.19 155.57,369.82 157.1,368.43 158.63,367.1 160.17,365.84 161.7,364.68 163.24,363.56 164.77,362.47 166.31,361.38 167.84,360.27 169.37,359.1 170.91,357.85 172.44,356.52 173.98,355.13 175.51,353.71 177.05,352.31 178.58,350.96 180.11,349.69 181.65,348.47 183.18,347.29 184.72,346.13 186.25,345 187.79,343.9 189.32,342.81 190.85,341.74 192.39,340.67 193.92,339.6 195.46,338.57 196.99,337.6 198.53,336.73 200.06,335.93 201.59,335.15 203.13,334.4 204.66,333.69 206.2,333.01 207.73,332.39 209.27,331.82 210.8,331.31 212.33,330.87 213.87,330.47 215.4,330.09 216.94,329.75 218.47,329.44 220.01,329.17 221.54,328.92 223.07,328.7 224.61,328.49 226.14,328.31 227.68,328.15 229.21,328.01 230.75,327.89 232.28,327.78 233.81,327.67 235.35,327.57 236.88,327.48 238.42,327.39 239.95,327.32 241.49,327.25 243.02,327.18 244.55,327.13 246.09,327.09 247.62,327.05 249.16,327.02 250.69,326.98 252.23,326.95 253.76,326.92 255.29,326.89 256.83,326.86 258.36,326.84 259.9,326.82 261.43,326.81 262.97,326.8 264.5,326.8" fill="none" stroke="#00f" stroke-width="2.4" stroke-linejoin="round" stroke-linecap="round" />
</g>
<rect x="49.7" y="278.6" width="214.8" height="144.9" fill="none" stroke="#000" stroke-width="1.45"/>
<line x1="45.2" y1="278.6" x2="49.7" y2="278.6" stroke="#000" stroke-width="1.45" />
<text x="41.6" y="282.5" font-size="9.4" font-weight="normal" text-anchor="end" style="stroke-width:0.3px">50</text>
<line x1="45.2" y1="326.8" x2="49.7" y2="326.8" stroke="#000" stroke-width="1.45" />
<text x="41.6" y="330.7" font-size="9.4" font-weight="normal" text-anchor="end" style="stroke-width:0.3px">0</text>
<line x1="45.2" y1="375" x2="49.7" y2="375" stroke="#000" stroke-width="1.45" />
<text x="41.1" y="378.9" font-size="9.4" font-weight="normal" text-anchor="end" style="stroke-width:0.3px">−50</text>
<line x1="45.2" y1="423.2" x2="49.7" y2="423.2" stroke="#000" stroke-width="1.45" />
<text x="42.7" y="427.1" font-size="9.4" font-weight="normal" text-anchor="end" style="stroke-width:0.3px">−100</text>
<line x1="47.1" y1="302.7" x2="49.7" y2="302.7" stroke="#000" stroke-width="1.45" />
<line x1="47.1" y1="350.9" x2="49.7" y2="350.9" stroke="#000" stroke-width="1.45" />
<line x1="47.1" y1="399.1" x2="49.7" y2="399.1" stroke="#000" stroke-width="1.45" />
<line x1="80.39" y1="423.5" x2="80.39" y2="428.1" stroke="#000" stroke-width="1.45" />
<text x="80.79" y="439.7" font-size="10" font-weight="bold" text-anchor="middle" >200</text>
<line x1="141.76" y1="423.5" x2="141.76" y2="428.1" stroke="#000" stroke-width="1.45" />
<text x="142.16" y="439.7" font-size="10" font-weight="bold" text-anchor="middle" >220</text>
<line x1="203.13" y1="423.5" x2="203.13" y2="428.1" stroke="#000" stroke-width="1.45" />
<text x="203.53" y="439.7" font-size="10" font-weight="bold" text-anchor="middle" >240</text>
<line x1="264.5" y1="423.5" x2="264.5" y2="428.1" stroke="#000" stroke-width="1.45" />
<text x="264.9" y="439.7" font-size="10" font-weight="bold" text-anchor="middle" >260</text>
<line x1="111.07" y1="423.5" x2="111.07" y2="426.3" stroke="#000" stroke-width="1.45" />
<line x1="172.44" y1="423.5" x2="172.44" y2="426.3" stroke="#000" stroke-width="1.45" />
<line x1="233.81" y1="423.5" x2="233.81" y2="426.3" stroke="#000" stroke-width="1.45" />
<text x="18.4" y="350.5" font-size="11.7" font-weight="bold" text-anchor="middle" transform="rotate(-90 18.4 350.5)">Ellipticity (<tspan font-weight="normal" style="stroke:none">θ</tspan> mdeg)</text>
<text x="157.5" y="455.3" font-size="11.3" font-weight="bold" text-anchor="middle" letter-spacing="0.33">Wavelength (nm)</text>
<line x1="210.8" y1="377.4" x2="227" y2="377.4" stroke="#f00" stroke-width="2.4" />
<text x="235.4" y="381.4" font-size="11" font-weight="bold">5<tspan font-weight="normal" font-family='"Liberation Sans","IPAGothic",sans-serif' font-size="10.5" dx="1.1" style="stroke:none">℃</tspan></text>
<line x1="210.8" y1="394" x2="227" y2="394" stroke="#0f0" stroke-width="2.4" />
<text x="235.4" y="398" font-size="11" font-weight="bold">55<tspan font-weight="normal" font-family='"Liberation Sans","IPAGothic",sans-serif' font-size="10.5" dx="1.1" style="stroke:none">℃</tspan></text>
<line x1="210.8" y1="410.6" x2="227" y2="410.6" stroke="#00f" stroke-width="2.4" />
<text x="235.4" y="414.6" font-size="11" font-weight="bold">95<tspan font-weight="normal" font-family='"Liberation Sans","IPAGothic",sans-serif' font-size="10.5" dx="1.1" style="stroke:none">℃</tspan></text>
<text transform="translate(291.4,265) scale(0.905,1)" font-size="25.7" font-weight="bold" style="stroke:none">D</text>
<rect x="324.5" y="278.6" width="215" height="145.1" fill="none" stroke="#000" stroke-width="1.45"/>
<line x1="320" y1="278.6" x2="324.5" y2="278.6" stroke="#000" stroke-width="1.45" />
<text x="318.2" y="282.1" font-size="9.6" font-weight="bold" text-anchor="end" style="stroke:none">−40</text>
<line x1="320" y1="342.85" x2="324.5" y2="342.85" stroke="#000" stroke-width="1.45" />
<text x="318.2" y="346.35" font-size="9.6" font-weight="bold" text-anchor="end" style="stroke:none">−60</text>
<line x1="320" y1="407.1" x2="324.5" y2="407.1" stroke="#000" stroke-width="1.45" />
<text x="318.2" y="410.6" font-size="9.6" font-weight="bold" text-anchor="end" style="stroke:none">−80</text>
<line x1="321.9" y1="310.73" x2="324.5" y2="310.73" stroke="#000" stroke-width="1.45" />
<line x1="321.9" y1="374.98" x2="324.5" y2="374.98" stroke="#000" stroke-width="1.45" />
<line x1="324.5" y1="423.7" x2="324.5" y2="428.3" stroke="#000" stroke-width="1.45" />
<text x="324.5" y="439.7" font-size="10" font-weight="bold" text-anchor="middle" >0</text>
<line x1="367.5" y1="423.7" x2="367.5" y2="428.3" stroke="#000" stroke-width="1.45" />
<text x="367.5" y="439.7" font-size="10" font-weight="bold" text-anchor="middle" >20</text>
<line x1="410.5" y1="423.7" x2="410.5" y2="428.3" stroke="#000" stroke-width="1.45" />
<text x="410.5" y="439.7" font-size="10" font-weight="bold" text-anchor="middle" >40</text>
<line x1="453.5" y1="423.7" x2="453.5" y2="428.3" stroke="#000" stroke-width="1.45" />
<text x="453.5" y="439.7" font-size="10" font-weight="bold" text-anchor="middle" >60</text>
<line x1="496.5" y1="423.7" x2="496.5" y2="428.3" stroke="#000" stroke-width="1.45" />
<text x="496.5" y="439.7" font-size="10" font-weight="bold" text-anchor="middle" >80</text>
<line x1="539.5" y1="423.7" x2="539.5" y2="428.3" stroke="#000" stroke-width="1.45" />
<text x="539.5" y="439.7" font-size="10" font-weight="bold" text-anchor="middle" >100</text>
<line x1="346" y1="423.7" x2="346" y2="426.5" stroke="#000" stroke-width="1.45" />
<line x1="389" y1="423.7" x2="389" y2="426.5" stroke="#000" stroke-width="1.45" />
<line x1="432" y1="423.7" x2="432" y2="426.5" stroke="#000" stroke-width="1.45" />
<line x1="475" y1="423.7" x2="475" y2="426.5" stroke="#000" stroke-width="1.45" />
<line x1="518" y1="423.7" x2="518" y2="426.5" stroke="#000" stroke-width="1.45" />
<text x="294.8" y="350.5" font-size="11.7" font-weight="bold" text-anchor="middle" transform="rotate(-90 294.8 350.5)">Ellipticity (<tspan font-weight="normal" style="stroke:none">θ</tspan> mdeg)</text>
<text x="432.3" y="455.3" font-size="11.3" font-weight="bold" text-anchor="middle" letter-spacing="0.25">Temperature (<tspan font-weight="normal" font-family='"Liberation Sans","IPAGothic",sans-serif' font-size="11.5" dx="1.2" style="stroke:none">℃</tspan><tspan dx="0.8">)</tspan></text>
<polyline points="335.25,406.74 340.62,408.34 346,407.06 351.38,408.02 356.75,405.45 362.12,406.09 367.5,405.13 372.88,404.81 378.25,404.49 383.62,403.85 389,401.92 394.38,399.03 399.75,395.17 405.12,387.78 410.5,373.65 415.88,334.13 421.25,296.87 426.62,291.41 432,294.3 437.38,299.76 442.75,304.26 448.12,307.15 453.5,309.4 458.88,309.72 464.25,309.08 469.62,312.61 475,312.61 480.38,310.36 485.75,313.57 491.12,312.93 496.5,314.86 501.88,311.65 507.25,313.9 512.62,314.54 518,315.18 523.38,316.14 528.75,315.18" fill="none" stroke="#000" stroke-width="0.8"/>
<circle cx="335.25" cy="406.74" r="2.8" fill="#000"/>
<circle cx="340.62" cy="408.34" r="2.8" fill="#000"/>
<circle cx="346" cy="407.06" r="2.8" fill="#000"/>
<circle cx="351.38" cy="408.02" r="2.8" fill="#000"/>
<circle cx="356.75" cy="405.45" r="2.8" fill="#000"/>
<circle cx="362.12" cy="406.09" r="2.8" fill="#000"/>
<circle cx="367.5" cy="405.13" r="2.8" fill="#000"/>
<circle cx="372.88" cy="404.81" r="2.8" fill="#000"/>
<circle cx="378.25" cy="404.49" r="2.8" fill="#000"/>
<circle cx="383.62" cy="403.85" r="2.8" fill="#000"/>
<circle cx="389" cy="401.92" r="2.8" fill="#000"/>
<circle cx="394.38" cy="399.03" r="2.8" fill="#000"/>
<circle cx="399.75" cy="395.17" r="2.8" fill="#000"/>
<circle cx="405.12" cy="387.78" r="2.8" fill="#000"/>
<circle cx="410.5" cy="373.65" r="2.8" fill="#000"/>
<circle cx="415.88" cy="334.13" r="2.8" fill="#000"/>
<circle cx="421.25" cy="296.87" r="2.8" fill="#000"/>
<circle cx="426.62" cy="291.41" r="2.8" fill="#000"/>
<circle cx="432" cy="294.3" r="2.8" fill="#000"/>
<circle cx="437.38" cy="299.76" r="2.8" fill="#000"/>
<circle cx="442.75" cy="304.26" r="2.8" fill="#000"/>
<circle cx="448.12" cy="307.15" r="2.8" fill="#000"/>
<circle cx="453.5" cy="309.4" r="2.8" fill="#000"/>
<circle cx="458.88" cy="309.72" r="2.8" fill="#000"/>
<circle cx="464.25" cy="309.08" r="2.8" fill="#000"/>
<circle cx="469.62" cy="312.61" r="2.8" fill="#000"/>
<circle cx="475" cy="312.61" r="2.8" fill="#000"/>
<circle cx="480.38" cy="310.36" r="2.8" fill="#000"/>
<circle cx="485.75" cy="313.57" r="2.8" fill="#000"/>
<circle cx="491.12" cy="312.93" r="2.8" fill="#000"/>
<circle cx="496.5" cy="314.86" r="2.8" fill="#000"/>
<circle cx="501.88" cy="311.65" r="2.8" fill="#000"/>
<circle cx="507.25" cy="313.9" r="2.8" fill="#000"/>
<circle cx="512.62" cy="314.54" r="2.8" fill="#000"/>
<circle cx="518" cy="315.18" r="2.8" fill="#000"/>
<circle cx="523.38" cy="316.14" r="2.8" fill="#000"/>
<circle cx="528.75" cy="315.18" r="2.8" fill="#000"/>
<text x="480" y="413.8" font-size="12" font-weight="bold">T<tspan font-size="9.3" dy="3.3">m</tspan><tspan dy="-3.3">= 52 </tspan><tspan font-weight="normal" font-family='"Liberation Sans","IPAGothic",sans-serif' font-size="10.5" dx="1.5" style="stroke:none">℃</tspan></text>
</svg>
</body></html>
